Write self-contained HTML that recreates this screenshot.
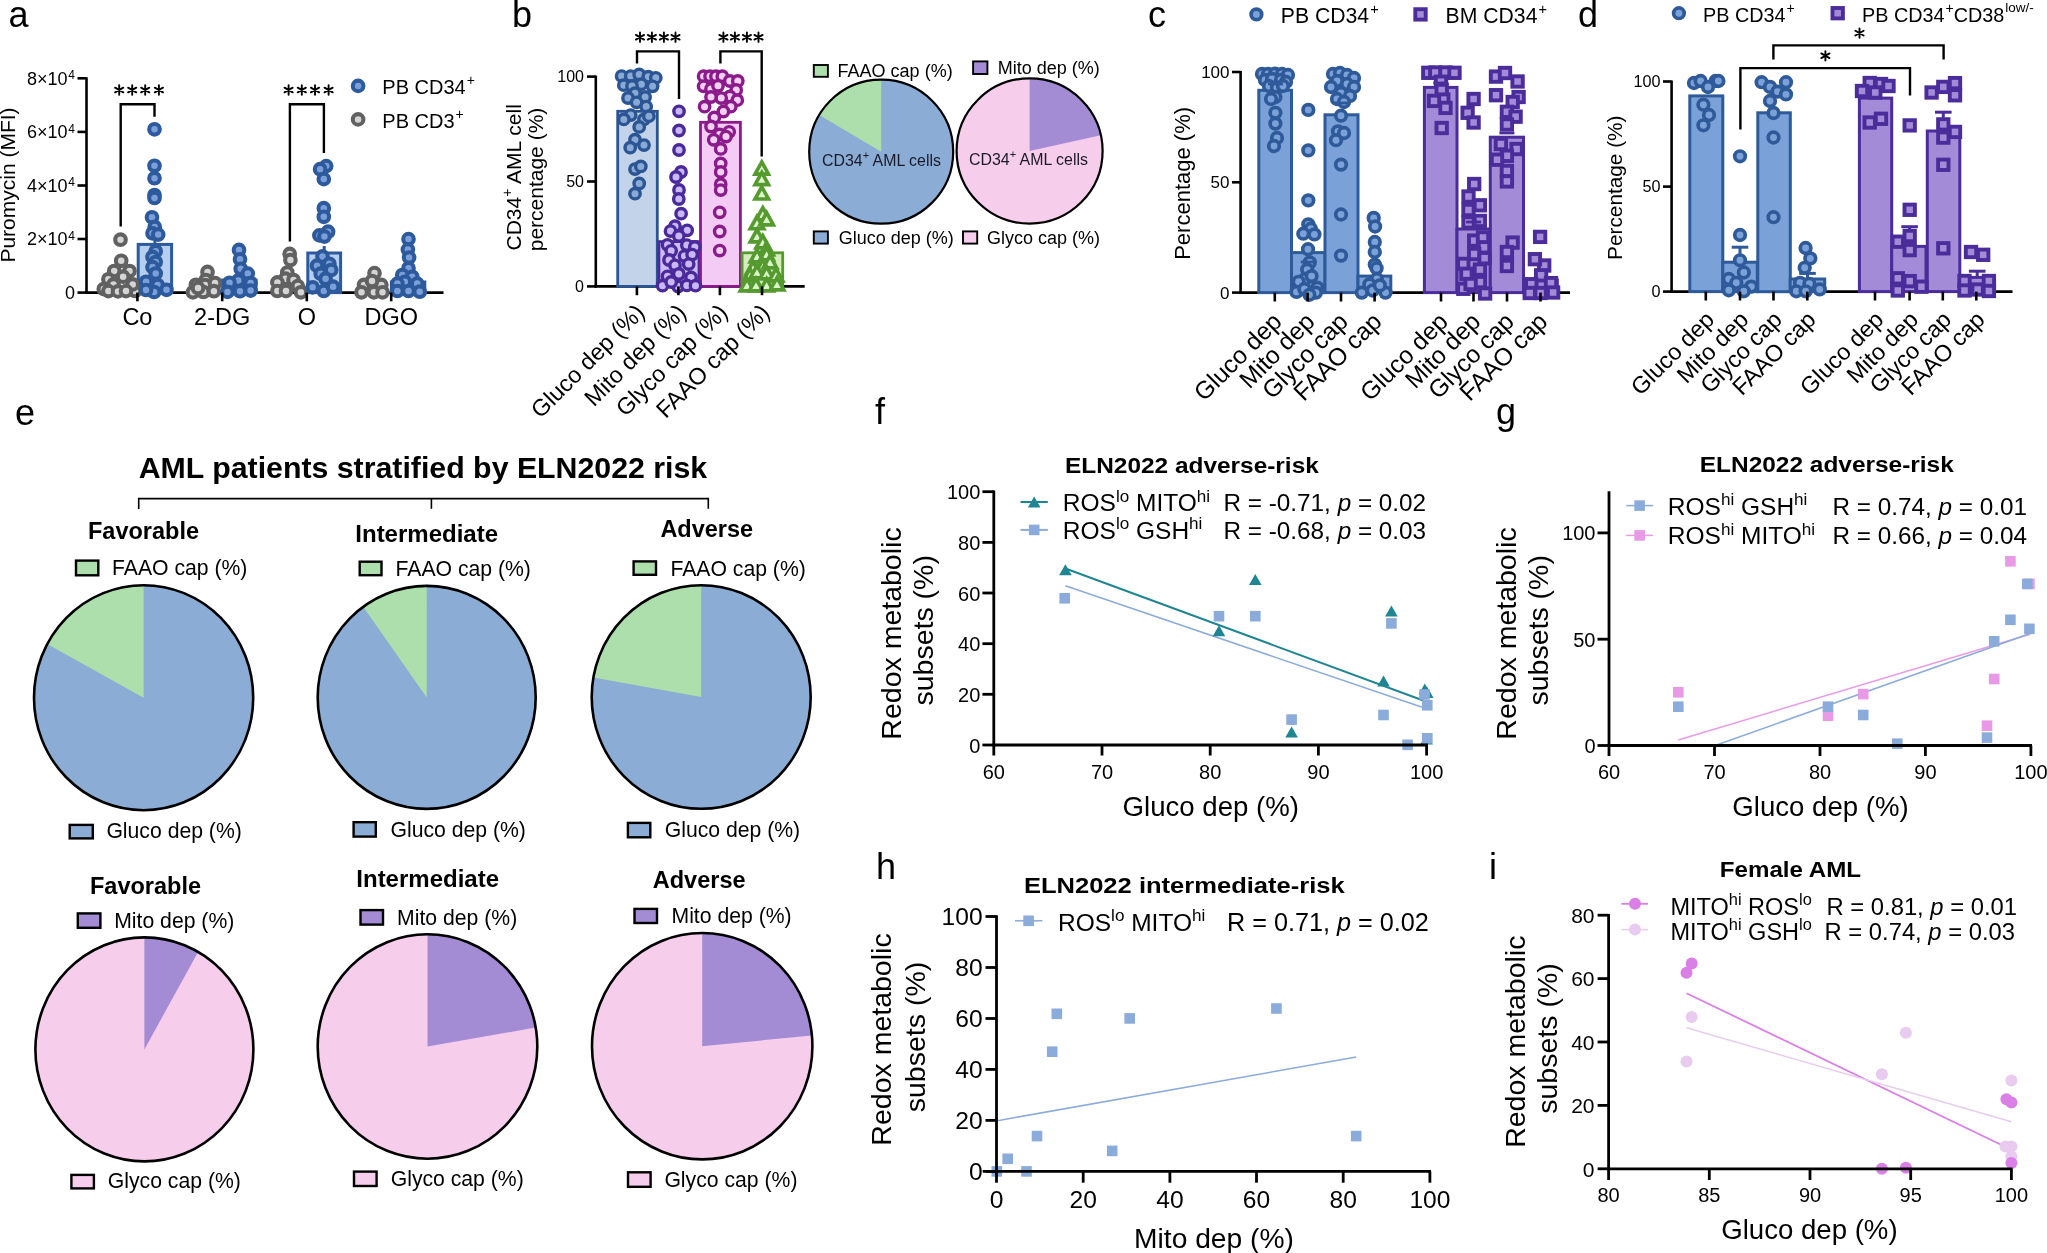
<!DOCTYPE html>
<html><head><meta charset="utf-8"><style>
html,body{margin:0;padding:0;background:#fff;}
svg{display:block;will-change:transform;}
text{font-family:"Liberation Sans", sans-serif;}
</style></head><body>
<svg width="2047" height="1253" viewBox="0 0 2047 1253">
<rect width="2047" height="1253" fill="#fff"/>
<text x="8.5" y="26.8" font-size="36" text-anchor="start" font-weight="normal" fill="#000" >a</text>
<text x="512.0" y="26.8" font-size="36" text-anchor="start" font-weight="normal" fill="#000" >b</text>
<text x="1148.0" y="26.8" font-size="36" text-anchor="start" font-weight="normal" fill="#000" >c</text>
<text x="1578.0" y="26.8" font-size="36" text-anchor="start" font-weight="normal" fill="#000" >d</text>
<text x="15.0" y="424.5" font-size="36" text-anchor="start" font-weight="normal" fill="#000" >e</text>
<text x="875.0" y="424.0" font-size="36" text-anchor="start" font-weight="normal" fill="#000" >f</text>
<text x="1496.0" y="424.0" font-size="36" text-anchor="start" font-weight="normal" fill="#000" >g</text>
<text x="876.0" y="878.6" font-size="36" text-anchor="start" font-weight="normal" fill="#000" >h</text>
<text x="1489.0" y="878.5" font-size="36" text-anchor="start" font-weight="normal" fill="#000" >i</text>
<line x1="86.5" y1="77.3" x2="86.5" y2="293.8" stroke="#000" stroke-width="2.6" />
<line x1="85.2" y1="292.6" x2="443.5" y2="292.6" stroke="#000" stroke-width="2.6" />
<rect x="138.2" y="244.4" width="33.4" height="48.2" fill="#b6cef0" stroke="#2d5a9c" stroke-width="3"/>
<rect x="222.6" y="280.0" width="33.4" height="12.6" fill="#b6cef0" stroke="#2d5a9c" stroke-width="3"/>
<rect x="307.8" y="253.0" width="32.8" height="39.6" fill="#b6cef0" stroke="#2d5a9c" stroke-width="3"/>
<rect x="391.4" y="282.0" width="33.4" height="10.6" fill="#b6cef0" stroke="#2d5a9c" stroke-width="3"/>
<line x1="154.9" y1="244.4" x2="154.9" y2="237.0" stroke="#2d5a9c" stroke-width="3" />
<line x1="324.2" y1="253.0" x2="324.2" y2="246.0" stroke="#2d5a9c" stroke-width="3" />
<circle cx="103.8" cy="289.0" r="5.3" fill="#d5d5d5" stroke="#616161" stroke-width="4.1"/>
<circle cx="135.0" cy="291.0" r="5.3" fill="#d5d5d5" stroke="#616161" stroke-width="4.1"/>
<circle cx="120.5" cy="239.7" r="5.3" fill="#d5d5d5" stroke="#616161" stroke-width="4.1"/>
<circle cx="121.2" cy="260.8" r="5.3" fill="#d5d5d5" stroke="#616161" stroke-width="4.1"/>
<circle cx="114.2" cy="271.0" r="5.3" fill="#d5d5d5" stroke="#616161" stroke-width="4.1"/>
<circle cx="129.5" cy="271.0" r="5.3" fill="#d5d5d5" stroke="#616161" stroke-width="4.1"/>
<circle cx="123.1" cy="276.7" r="5.3" fill="#d5d5d5" stroke="#616161" stroke-width="4.1"/>
<circle cx="108.4" cy="279.3" r="5.3" fill="#d5d5d5" stroke="#616161" stroke-width="4.1"/>
<circle cx="113.5" cy="284.4" r="5.3" fill="#d5d5d5" stroke="#616161" stroke-width="4.1"/>
<circle cx="132.7" cy="284.4" r="5.3" fill="#d5d5d5" stroke="#616161" stroke-width="4.1"/>
<circle cx="108.4" cy="291.1" r="5.3" fill="#d5d5d5" stroke="#616161" stroke-width="4.1"/>
<circle cx="118.0" cy="291.4" r="5.3" fill="#d5d5d5" stroke="#616161" stroke-width="4.1"/>
<circle cx="126.0" cy="291.1" r="5.3" fill="#d5d5d5" stroke="#616161" stroke-width="4.1"/>
<circle cx="207.5" cy="271.9" r="5.3" fill="#d5d5d5" stroke="#616161" stroke-width="4.1"/>
<circle cx="205.8" cy="280.0" r="5.3" fill="#d5d5d5" stroke="#616161" stroke-width="4.1"/>
<circle cx="195.9" cy="284.8" r="5.3" fill="#d5d5d5" stroke="#616161" stroke-width="4.1"/>
<circle cx="205.1" cy="285.0" r="5.3" fill="#d5d5d5" stroke="#616161" stroke-width="4.1"/>
<circle cx="215.0" cy="283.0" r="5.3" fill="#d5d5d5" stroke="#616161" stroke-width="4.1"/>
<circle cx="192.9" cy="292.3" r="5.3" fill="#d5d5d5" stroke="#616161" stroke-width="4.1"/>
<circle cx="203.4" cy="292.0" r="5.3" fill="#d5d5d5" stroke="#616161" stroke-width="4.1"/>
<circle cx="213.9" cy="291.2" r="5.3" fill="#d5d5d5" stroke="#616161" stroke-width="4.1"/>
<circle cx="198.0" cy="288.0" r="5.3" fill="#d5d5d5" stroke="#616161" stroke-width="4.1"/>
<circle cx="289.7" cy="253.9" r="5.3" fill="#d5d5d5" stroke="#616161" stroke-width="4.1"/>
<circle cx="290.4" cy="260.1" r="5.3" fill="#d5d5d5" stroke="#616161" stroke-width="4.1"/>
<circle cx="287.3" cy="272.5" r="5.3" fill="#d5d5d5" stroke="#616161" stroke-width="4.1"/>
<circle cx="285.4" cy="278.7" r="5.3" fill="#d5d5d5" stroke="#616161" stroke-width="4.1"/>
<circle cx="293.5" cy="280.0" r="5.3" fill="#d5d5d5" stroke="#616161" stroke-width="4.1"/>
<circle cx="277.4" cy="282.4" r="5.3" fill="#d5d5d5" stroke="#616161" stroke-width="4.1"/>
<circle cx="297.8" cy="286.1" r="5.3" fill="#d5d5d5" stroke="#616161" stroke-width="4.1"/>
<circle cx="277.4" cy="291.0" r="5.3" fill="#d5d5d5" stroke="#616161" stroke-width="4.1"/>
<circle cx="286.0" cy="291.0" r="5.3" fill="#d5d5d5" stroke="#616161" stroke-width="4.1"/>
<circle cx="300.9" cy="292.3" r="5.3" fill="#d5d5d5" stroke="#616161" stroke-width="4.1"/>
<circle cx="374.5" cy="273.1" r="5.3" fill="#d5d5d5" stroke="#616161" stroke-width="4.1"/>
<circle cx="364.0" cy="284.9" r="5.3" fill="#d5d5d5" stroke="#616161" stroke-width="4.1"/>
<circle cx="381.3" cy="284.9" r="5.3" fill="#d5d5d5" stroke="#616161" stroke-width="4.1"/>
<circle cx="372.0" cy="281.0" r="5.3" fill="#d5d5d5" stroke="#616161" stroke-width="4.1"/>
<circle cx="361.5" cy="292.3" r="5.3" fill="#d5d5d5" stroke="#616161" stroke-width="4.1"/>
<circle cx="373.9" cy="292.3" r="5.3" fill="#d5d5d5" stroke="#616161" stroke-width="4.1"/>
<circle cx="382.5" cy="292.3" r="5.3" fill="#d5d5d5" stroke="#616161" stroke-width="4.1"/>
<circle cx="154.5" cy="129.3" r="5.3" fill="#7ba0d9" stroke="#2d5a9c" stroke-width="4.1"/>
<circle cx="154.5" cy="165.8" r="5.3" fill="#7ba0d9" stroke="#2d5a9c" stroke-width="4.1"/>
<circle cx="154.5" cy="178.2" r="5.3" fill="#7ba0d9" stroke="#2d5a9c" stroke-width="4.1"/>
<circle cx="154.5" cy="195.0" r="5.3" fill="#7ba0d9" stroke="#2d5a9c" stroke-width="4.1"/>
<circle cx="154.5" cy="198.0" r="5.3" fill="#7ba0d9" stroke="#2d5a9c" stroke-width="4.1"/>
<circle cx="152.0" cy="217.3" r="5.3" fill="#7ba0d9" stroke="#2d5a9c" stroke-width="4.1"/>
<circle cx="154.7" cy="226.9" r="5.3" fill="#7ba0d9" stroke="#2d5a9c" stroke-width="4.1"/>
<circle cx="152.5" cy="233.3" r="5.3" fill="#7ba0d9" stroke="#2d5a9c" stroke-width="4.1"/>
<circle cx="158.2" cy="234.6" r="5.3" fill="#7ba0d9" stroke="#2d5a9c" stroke-width="4.1"/>
<circle cx="155.7" cy="251.2" r="5.3" fill="#7ba0d9" stroke="#2d5a9c" stroke-width="4.1"/>
<circle cx="152.5" cy="256.9" r="5.3" fill="#7ba0d9" stroke="#2d5a9c" stroke-width="4.1"/>
<circle cx="155.7" cy="262.0" r="5.3" fill="#7ba0d9" stroke="#2d5a9c" stroke-width="4.1"/>
<circle cx="152.5" cy="267.1" r="5.3" fill="#7ba0d9" stroke="#2d5a9c" stroke-width="4.1"/>
<circle cx="155.7" cy="273.5" r="5.3" fill="#7ba0d9" stroke="#2d5a9c" stroke-width="4.1"/>
<circle cx="146.1" cy="281.8" r="5.3" fill="#7ba0d9" stroke="#2d5a9c" stroke-width="4.1"/>
<circle cx="157.6" cy="285.0" r="5.3" fill="#7ba0d9" stroke="#2d5a9c" stroke-width="4.1"/>
<circle cx="166.5" cy="289.8" r="5.3" fill="#7ba0d9" stroke="#2d5a9c" stroke-width="4.1"/>
<circle cx="154.1" cy="292.0" r="5.3" fill="#7ba0d9" stroke="#2d5a9c" stroke-width="4.1"/>
<circle cx="146.0" cy="290.0" r="5.3" fill="#7ba0d9" stroke="#2d5a9c" stroke-width="4.1"/>
<circle cx="239.0" cy="249.9" r="5.3" fill="#7ba0d9" stroke="#2d5a9c" stroke-width="4.1"/>
<circle cx="240.0" cy="259.3" r="5.3" fill="#7ba0d9" stroke="#2d5a9c" stroke-width="4.1"/>
<circle cx="240.7" cy="268.8" r="5.3" fill="#7ba0d9" stroke="#2d5a9c" stroke-width="4.1"/>
<circle cx="247.8" cy="273.6" r="5.3" fill="#7ba0d9" stroke="#2d5a9c" stroke-width="4.1"/>
<circle cx="238.3" cy="280.4" r="5.3" fill="#7ba0d9" stroke="#2d5a9c" stroke-width="4.1"/>
<circle cx="229.5" cy="282.8" r="5.3" fill="#7ba0d9" stroke="#2d5a9c" stroke-width="4.1"/>
<circle cx="250.6" cy="283.0" r="5.3" fill="#7ba0d9" stroke="#2d5a9c" stroke-width="4.1"/>
<circle cx="227.5" cy="291.9" r="5.3" fill="#7ba0d9" stroke="#2d5a9c" stroke-width="4.1"/>
<circle cx="240.0" cy="291.2" r="5.3" fill="#7ba0d9" stroke="#2d5a9c" stroke-width="4.1"/>
<circle cx="250.6" cy="290.6" r="5.3" fill="#7ba0d9" stroke="#2d5a9c" stroke-width="4.1"/>
<circle cx="326.2" cy="166.1" r="5.3" fill="#7ba0d9" stroke="#2d5a9c" stroke-width="4.1"/>
<circle cx="320.1" cy="169.2" r="5.3" fill="#7ba0d9" stroke="#2d5a9c" stroke-width="4.1"/>
<circle cx="323.8" cy="179.1" r="5.3" fill="#7ba0d9" stroke="#2d5a9c" stroke-width="4.1"/>
<circle cx="323.8" cy="208.2" r="5.3" fill="#7ba0d9" stroke="#2d5a9c" stroke-width="4.1"/>
<circle cx="323.8" cy="216.8" r="5.3" fill="#7ba0d9" stroke="#2d5a9c" stroke-width="4.1"/>
<circle cx="328.1" cy="231.7" r="5.3" fill="#7ba0d9" stroke="#2d5a9c" stroke-width="4.1"/>
<circle cx="319.4" cy="235.4" r="5.3" fill="#7ba0d9" stroke="#2d5a9c" stroke-width="4.1"/>
<circle cx="324.4" cy="236.6" r="5.3" fill="#7ba0d9" stroke="#2d5a9c" stroke-width="4.1"/>
<circle cx="322.5" cy="256.4" r="5.3" fill="#7ba0d9" stroke="#2d5a9c" stroke-width="4.1"/>
<circle cx="317.0" cy="265.7" r="5.3" fill="#7ba0d9" stroke="#2d5a9c" stroke-width="4.1"/>
<circle cx="329.3" cy="263.8" r="5.3" fill="#7ba0d9" stroke="#2d5a9c" stroke-width="4.1"/>
<circle cx="320.7" cy="273.7" r="5.3" fill="#7ba0d9" stroke="#2d5a9c" stroke-width="4.1"/>
<circle cx="331.2" cy="270.0" r="5.3" fill="#7ba0d9" stroke="#2d5a9c" stroke-width="4.1"/>
<circle cx="325.6" cy="278.7" r="5.3" fill="#7ba0d9" stroke="#2d5a9c" stroke-width="4.1"/>
<circle cx="312.6" cy="287.3" r="5.3" fill="#7ba0d9" stroke="#2d5a9c" stroke-width="4.1"/>
<circle cx="323.8" cy="291.0" r="5.3" fill="#7ba0d9" stroke="#2d5a9c" stroke-width="4.1"/>
<circle cx="333.1" cy="286.7" r="5.3" fill="#7ba0d9" stroke="#2d5a9c" stroke-width="4.1"/>
<circle cx="408.5" cy="239.1" r="5.3" fill="#7ba0d9" stroke="#2d5a9c" stroke-width="4.1"/>
<circle cx="407.9" cy="249.6" r="5.3" fill="#7ba0d9" stroke="#2d5a9c" stroke-width="4.1"/>
<circle cx="409.1" cy="257.6" r="5.3" fill="#7ba0d9" stroke="#2d5a9c" stroke-width="4.1"/>
<circle cx="408.5" cy="268.2" r="5.3" fill="#7ba0d9" stroke="#2d5a9c" stroke-width="4.1"/>
<circle cx="402.3" cy="275.0" r="5.3" fill="#7ba0d9" stroke="#2d5a9c" stroke-width="4.1"/>
<circle cx="412.2" cy="276.8" r="5.3" fill="#7ba0d9" stroke="#2d5a9c" stroke-width="4.1"/>
<circle cx="404.8" cy="281.8" r="5.3" fill="#7ba0d9" stroke="#2d5a9c" stroke-width="4.1"/>
<circle cx="417.2" cy="283.6" r="5.3" fill="#7ba0d9" stroke="#2d5a9c" stroke-width="4.1"/>
<circle cx="397.4" cy="283.6" r="5.3" fill="#7ba0d9" stroke="#2d5a9c" stroke-width="4.1"/>
<circle cx="397.4" cy="291.0" r="5.3" fill="#7ba0d9" stroke="#2d5a9c" stroke-width="4.1"/>
<circle cx="408.5" cy="291.0" r="5.3" fill="#7ba0d9" stroke="#2d5a9c" stroke-width="4.1"/>
<circle cx="419.7" cy="291.7" r="5.3" fill="#7ba0d9" stroke="#2d5a9c" stroke-width="4.1"/>
<line x1="77.5" y1="292.6" x2="86.5" y2="292.6" stroke="#000" stroke-width="2.6" />
<text x="75.0" y="298.9" font-size="18" text-anchor="end" font-weight="normal" fill="#000" >0</text>
<line x1="77.5" y1="239.0" x2="86.5" y2="239.0" stroke="#000" stroke-width="2.6" />
<text x="67.6" y="245.2" font-size="18" text-anchor="end" font-weight="normal" fill="#000" >2×10</text>
<text x="68.3" y="239.8" font-size="12" text-anchor="start" font-weight="normal" fill="#000" >4</text>
<line x1="77.5" y1="185.5" x2="86.5" y2="185.5" stroke="#000" stroke-width="2.6" />
<text x="67.6" y="191.7" font-size="18" text-anchor="end" font-weight="normal" fill="#000" >4×10</text>
<text x="68.3" y="186.3" font-size="12" text-anchor="start" font-weight="normal" fill="#000" >4</text>
<line x1="77.5" y1="131.9" x2="86.5" y2="131.9" stroke="#000" stroke-width="2.6" />
<text x="67.6" y="138.1" font-size="18" text-anchor="end" font-weight="normal" fill="#000" >6×10</text>
<text x="68.3" y="132.7" font-size="12" text-anchor="start" font-weight="normal" fill="#000" >4</text>
<line x1="77.5" y1="78.3" x2="86.5" y2="78.3" stroke="#000" stroke-width="2.6" />
<text x="67.6" y="84.5" font-size="18" text-anchor="end" font-weight="normal" fill="#000" >8×10</text>
<text x="68.3" y="79.1" font-size="12" text-anchor="start" font-weight="normal" fill="#000" >4</text>
<line x1="137.4" y1="292.6" x2="137.4" y2="301.3" stroke="#000" stroke-width="2.6" />
<text x="137.4" y="325.0" font-size="23.5" text-anchor="middle" font-weight="normal" fill="#000" >Co</text>
<line x1="222.2" y1="292.6" x2="222.2" y2="301.3" stroke="#000" stroke-width="2.6" />
<text x="222.2" y="325.0" font-size="23.5" text-anchor="middle" font-weight="normal" fill="#000" >2-DG</text>
<line x1="306.8" y1="292.6" x2="306.8" y2="301.3" stroke="#000" stroke-width="2.6" />
<text x="306.8" y="325.0" font-size="23.5" text-anchor="middle" font-weight="normal" fill="#000" >O</text>
<line x1="391.2" y1="292.6" x2="391.2" y2="301.3" stroke="#000" stroke-width="2.6" />
<text x="391.2" y="325.0" font-size="23.5" text-anchor="middle" font-weight="normal" fill="#000" >DGO</text>
<text transform="translate(15.3,185) rotate(-90)" font-size="21" text-anchor="middle">Puromycin (MFI)</text>
<polyline points="120.7,226.5 120.7,104.2 154.5,104.2 154.5,116.7" fill="none" stroke="#000" stroke-width="2.4" stroke-linejoin="miter"/>
<polyline points="289.9,241.6 289.9,104.2 323.9,104.2 323.9,153.0" fill="none" stroke="#000" stroke-width="2.4" stroke-linejoin="miter"/>
<path d="M119.2,85.3V94.7M115.1,87.7L123.3,92.3M115.1,92.3L123.3,87.7" stroke="#000" stroke-width="1.9" stroke-linecap="round" fill="none"/>
<path d="M132.2,85.3V94.7M128.1,87.7L136.3,92.3M128.1,92.3L136.3,87.7" stroke="#000" stroke-width="1.9" stroke-linecap="round" fill="none"/>
<path d="M145.2,85.3V94.7M141.1,87.7L149.3,92.3M141.1,92.3L149.3,87.7" stroke="#000" stroke-width="1.9" stroke-linecap="round" fill="none"/>
<path d="M158.9,85.3V94.7M154.8,87.7L163.0,92.3M154.8,92.3L163.0,87.7" stroke="#000" stroke-width="1.9" stroke-linecap="round" fill="none"/>
<path d="M288.6,85.3V94.7M284.5,87.7L292.7,92.3M284.5,92.3L292.7,87.7" stroke="#000" stroke-width="1.9" stroke-linecap="round" fill="none"/>
<path d="M301.8,85.3V94.7M297.7,87.7L305.9,92.3M297.7,92.3L305.9,87.7" stroke="#000" stroke-width="1.9" stroke-linecap="round" fill="none"/>
<path d="M315.0,85.3V94.7M310.9,87.7L319.1,92.3M310.9,92.3L319.1,87.7" stroke="#000" stroke-width="1.9" stroke-linecap="round" fill="none"/>
<path d="M328.6,85.3V94.7M324.5,87.7L332.7,92.3M324.5,92.3L332.7,87.7" stroke="#000" stroke-width="1.9" stroke-linecap="round" fill="none"/>
<circle cx="358.1" cy="85.9" r="5.3" fill="#7ba0d9" stroke="#2d5a9c" stroke-width="4.1"/>
<circle cx="358.1" cy="119.4" r="5.3" fill="#d5d5d5" stroke="#616161" stroke-width="4.1"/>
<text x="382.3" y="93.9" font-size="20">PB CD34<tspan font-size="14" dx="1" dy="-8.8">+</tspan></text>
<text x="382.3" y="127.6" font-size="20">PB CD3<tspan font-size="14" dx="1" dy="-8.8">+</tspan></text>
<line x1="595.8" y1="75.6" x2="595.8" y2="287.6" stroke="#000" stroke-width="2.6" />
<line x1="594.5" y1="286.4" x2="804.7" y2="286.4" stroke="#000" stroke-width="2.6" />
<rect x="617.7" y="111.3" width="39.6" height="175.1" fill="#c3d3ea" stroke="#2c5594" stroke-width="2.8"/>
<rect x="658.9" y="241.6" width="40.1" height="44.8" fill="#cbbdf3" stroke="#4a2a9a" stroke-width="2.8"/>
<rect x="700.5" y="122.3" width="39.9" height="164.1" fill="#f4cbf4" stroke="#8b1a8b" stroke-width="2.8"/>
<rect x="742.1" y="252.8" width="40.6" height="33.6" fill="#d6ecbc" stroke="#559a2f" stroke-width="2.8"/>
<circle cx="621.6" cy="76.1" r="5.2" fill="#8aaad6" stroke="#2c5594" stroke-width="3.4"/>
<circle cx="630.7" cy="76.1" r="5.2" fill="#8aaad6" stroke="#2c5594" stroke-width="3.4"/>
<circle cx="639.2" cy="74.5" r="5.2" fill="#8aaad6" stroke="#2c5594" stroke-width="3.4"/>
<circle cx="648.3" cy="76.7" r="5.2" fill="#8aaad6" stroke="#2c5594" stroke-width="3.4"/>
<circle cx="655.8" cy="77.8" r="5.2" fill="#8aaad6" stroke="#2c5594" stroke-width="3.4"/>
<circle cx="623.8" cy="85.2" r="5.2" fill="#8aaad6" stroke="#2c5594" stroke-width="3.4"/>
<circle cx="641.4" cy="84.2" r="5.2" fill="#8aaad6" stroke="#2c5594" stroke-width="3.4"/>
<circle cx="652.6" cy="86.3" r="5.2" fill="#8aaad6" stroke="#2c5594" stroke-width="3.4"/>
<circle cx="632.0" cy="86.0" r="5.2" fill="#8aaad6" stroke="#2c5594" stroke-width="3.4"/>
<circle cx="635.0" cy="93.2" r="5.2" fill="#8aaad6" stroke="#2c5594" stroke-width="3.4"/>
<circle cx="628.0" cy="98.0" r="5.2" fill="#8aaad6" stroke="#2c5594" stroke-width="3.4"/>
<circle cx="645.1" cy="97.0" r="5.2" fill="#8aaad6" stroke="#2c5594" stroke-width="3.4"/>
<circle cx="636.6" cy="102.3" r="5.2" fill="#8aaad6" stroke="#2c5594" stroke-width="3.4"/>
<circle cx="646.2" cy="106.6" r="5.2" fill="#8aaad6" stroke="#2c5594" stroke-width="3.4"/>
<circle cx="630.7" cy="115.1" r="5.2" fill="#8aaad6" stroke="#2c5594" stroke-width="3.4"/>
<circle cx="623.8" cy="119.4" r="5.2" fill="#8aaad6" stroke="#2c5594" stroke-width="3.4"/>
<circle cx="644.0" cy="119.4" r="5.2" fill="#8aaad6" stroke="#2c5594" stroke-width="3.4"/>
<circle cx="648.9" cy="116.2" r="5.2" fill="#8aaad6" stroke="#2c5594" stroke-width="3.4"/>
<circle cx="639.2" cy="126.9" r="5.2" fill="#8aaad6" stroke="#2c5594" stroke-width="3.4"/>
<circle cx="635.0" cy="139.7" r="5.2" fill="#8aaad6" stroke="#2c5594" stroke-width="3.4"/>
<circle cx="630.2" cy="147.7" r="5.2" fill="#8aaad6" stroke="#2c5594" stroke-width="3.4"/>
<circle cx="644.0" cy="145.1" r="5.2" fill="#8aaad6" stroke="#2c5594" stroke-width="3.4"/>
<circle cx="635.0" cy="169.1" r="5.2" fill="#8aaad6" stroke="#2c5594" stroke-width="3.4"/>
<circle cx="640.8" cy="166.4" r="5.2" fill="#8aaad6" stroke="#2c5594" stroke-width="3.4"/>
<circle cx="639.2" cy="183.5" r="5.2" fill="#8aaad6" stroke="#2c5594" stroke-width="3.4"/>
<circle cx="635.0" cy="193.7" r="5.2" fill="#8aaad6" stroke="#2c5594" stroke-width="3.4"/>
<circle cx="679.0" cy="111.3" r="5.2" fill="#c9b8f8" stroke="#4a2a9a" stroke-width="3.4"/>
<circle cx="679.0" cy="130.5" r="5.2" fill="#c9b8f8" stroke="#4a2a9a" stroke-width="3.4"/>
<circle cx="679.0" cy="150.0" r="5.2" fill="#c9b8f8" stroke="#4a2a9a" stroke-width="3.4"/>
<circle cx="681.0" cy="172.0" r="5.2" fill="#c9b8f8" stroke="#4a2a9a" stroke-width="3.4"/>
<circle cx="676.0" cy="177.0" r="5.2" fill="#c9b8f8" stroke="#4a2a9a" stroke-width="3.4"/>
<circle cx="679.0" cy="190.0" r="5.2" fill="#c9b8f8" stroke="#4a2a9a" stroke-width="3.4"/>
<circle cx="678.8" cy="199.0" r="5.2" fill="#c9b8f8" stroke="#4a2a9a" stroke-width="3.4"/>
<circle cx="681.1" cy="213.7" r="5.2" fill="#c9b8f8" stroke="#4a2a9a" stroke-width="3.4"/>
<circle cx="675.0" cy="226.2" r="5.2" fill="#c9b8f8" stroke="#4a2a9a" stroke-width="3.4"/>
<circle cx="687.2" cy="230.3" r="5.2" fill="#c9b8f8" stroke="#4a2a9a" stroke-width="3.4"/>
<circle cx="670.5" cy="231.1" r="5.2" fill="#c9b8f8" stroke="#4a2a9a" stroke-width="3.4"/>
<circle cx="678.8" cy="236.0" r="5.2" fill="#c9b8f8" stroke="#4a2a9a" stroke-width="3.4"/>
<circle cx="667.5" cy="244.8" r="5.2" fill="#c9b8f8" stroke="#4a2a9a" stroke-width="3.4"/>
<circle cx="686.8" cy="245.1" r="5.2" fill="#c9b8f8" stroke="#4a2a9a" stroke-width="3.4"/>
<circle cx="694.8" cy="247.0" r="5.2" fill="#c9b8f8" stroke="#4a2a9a" stroke-width="3.4"/>
<circle cx="671.2" cy="250.8" r="5.2" fill="#c9b8f8" stroke="#4a2a9a" stroke-width="3.4"/>
<circle cx="684.5" cy="256.1" r="5.2" fill="#c9b8f8" stroke="#4a2a9a" stroke-width="3.4"/>
<circle cx="692.1" cy="254.6" r="5.2" fill="#c9b8f8" stroke="#4a2a9a" stroke-width="3.4"/>
<circle cx="669.0" cy="260.0" r="5.2" fill="#c9b8f8" stroke="#4a2a9a" stroke-width="3.4"/>
<circle cx="675.0" cy="265.3" r="5.2" fill="#c9b8f8" stroke="#4a2a9a" stroke-width="3.4"/>
<circle cx="688.7" cy="264.1" r="5.2" fill="#c9b8f8" stroke="#4a2a9a" stroke-width="3.4"/>
<circle cx="667.5" cy="276.3" r="5.2" fill="#c9b8f8" stroke="#4a2a9a" stroke-width="3.4"/>
<circle cx="678.8" cy="274.0" r="5.2" fill="#c9b8f8" stroke="#4a2a9a" stroke-width="3.4"/>
<circle cx="691.0" cy="277.4" r="5.2" fill="#c9b8f8" stroke="#4a2a9a" stroke-width="3.4"/>
<circle cx="662.5" cy="285.7" r="5.2" fill="#c9b8f8" stroke="#4a2a9a" stroke-width="3.4"/>
<circle cx="678.1" cy="286.5" r="5.2" fill="#c9b8f8" stroke="#4a2a9a" stroke-width="3.4"/>
<circle cx="686.8" cy="285.4" r="5.2" fill="#c9b8f8" stroke="#4a2a9a" stroke-width="3.4"/>
<circle cx="695.5" cy="285.7" r="5.2" fill="#c9b8f8" stroke="#4a2a9a" stroke-width="3.4"/>
<circle cx="671.2" cy="282.0" r="5.2" fill="#c9b8f8" stroke="#4a2a9a" stroke-width="3.4"/>
<circle cx="703.6" cy="76.2" r="5.2" fill="#f2d0f2" stroke="#8b1a8b" stroke-width="3.4"/>
<circle cx="710.0" cy="76.2" r="5.2" fill="#f2d0f2" stroke="#8b1a8b" stroke-width="3.4"/>
<circle cx="715.9" cy="76.2" r="5.2" fill="#f2d0f2" stroke="#8b1a8b" stroke-width="3.4"/>
<circle cx="722.3" cy="76.2" r="5.2" fill="#f2d0f2" stroke="#8b1a8b" stroke-width="3.4"/>
<circle cx="729.8" cy="81.0" r="5.2" fill="#f2d0f2" stroke="#8b1a8b" stroke-width="3.4"/>
<circle cx="737.8" cy="81.0" r="5.2" fill="#f2d0f2" stroke="#8b1a8b" stroke-width="3.4"/>
<circle cx="703.6" cy="86.3" r="5.2" fill="#f2d0f2" stroke="#8b1a8b" stroke-width="3.4"/>
<circle cx="711.0" cy="89.0" r="5.2" fill="#f2d0f2" stroke="#8b1a8b" stroke-width="3.4"/>
<circle cx="718.0" cy="85.8" r="5.2" fill="#f2d0f2" stroke="#8b1a8b" stroke-width="3.4"/>
<circle cx="736.2" cy="90.0" r="5.2" fill="#f2d0f2" stroke="#8b1a8b" stroke-width="3.4"/>
<circle cx="729.8" cy="96.5" r="5.2" fill="#f2d0f2" stroke="#8b1a8b" stroke-width="3.4"/>
<circle cx="721.2" cy="98.1" r="5.2" fill="#f2d0f2" stroke="#8b1a8b" stroke-width="3.4"/>
<circle cx="711.0" cy="97.0" r="5.2" fill="#f2d0f2" stroke="#8b1a8b" stroke-width="3.4"/>
<circle cx="737.3" cy="100.2" r="5.2" fill="#f2d0f2" stroke="#8b1a8b" stroke-width="3.4"/>
<circle cx="704.6" cy="106.7" r="5.2" fill="#f2d0f2" stroke="#8b1a8b" stroke-width="3.4"/>
<circle cx="730.8" cy="106.7" r="5.2" fill="#f2d0f2" stroke="#8b1a8b" stroke-width="3.4"/>
<circle cx="723.4" cy="111.5" r="5.2" fill="#f2d0f2" stroke="#8b1a8b" stroke-width="3.4"/>
<circle cx="714.3" cy="117.4" r="5.2" fill="#f2d0f2" stroke="#8b1a8b" stroke-width="3.4"/>
<circle cx="711.0" cy="126.5" r="5.2" fill="#f2d0f2" stroke="#8b1a8b" stroke-width="3.4"/>
<circle cx="729.2" cy="131.8" r="5.2" fill="#f2d0f2" stroke="#8b1a8b" stroke-width="3.4"/>
<circle cx="719.6" cy="134.5" r="5.2" fill="#f2d0f2" stroke="#8b1a8b" stroke-width="3.4"/>
<circle cx="713.7" cy="139.8" r="5.2" fill="#f2d0f2" stroke="#8b1a8b" stroke-width="3.4"/>
<circle cx="726.0" cy="136.6" r="5.2" fill="#f2d0f2" stroke="#8b1a8b" stroke-width="3.4"/>
<circle cx="720.7" cy="148.9" r="5.2" fill="#f2d0f2" stroke="#8b1a8b" stroke-width="3.4"/>
<circle cx="720.7" cy="163.4" r="5.2" fill="#f2d0f2" stroke="#8b1a8b" stroke-width="3.4"/>
<circle cx="720.7" cy="171.9" r="5.2" fill="#f2d0f2" stroke="#8b1a8b" stroke-width="3.4"/>
<circle cx="720.7" cy="184.2" r="5.2" fill="#f2d0f2" stroke="#8b1a8b" stroke-width="3.4"/>
<circle cx="720.7" cy="190.1" r="5.2" fill="#f2d0f2" stroke="#8b1a8b" stroke-width="3.4"/>
<circle cx="719.7" cy="212.3" r="5.2" fill="#f2d0f2" stroke="#8b1a8b" stroke-width="3.4"/>
<circle cx="719.7" cy="231.5" r="5.2" fill="#f2d0f2" stroke="#8b1a8b" stroke-width="3.4"/>
<circle cx="719.7" cy="250.6" r="5.2" fill="#f2d0f2" stroke="#8b1a8b" stroke-width="3.4"/>
<polygon points="761.8,161.9 768.5,174.1 755.0,174.1" fill="#d9f5c9" stroke="#559a2f" stroke-width="3.6" stroke-linejoin="miter"/>
<polygon points="761.8,172.4 768.5,184.6 755.0,184.6" fill="#d9f5c9" stroke="#559a2f" stroke-width="3.6" stroke-linejoin="miter"/>
<polygon points="761.8,186.8 768.5,199.0 755.0,199.0" fill="#d9f5c9" stroke="#559a2f" stroke-width="3.6" stroke-linejoin="miter"/>
<polygon points="762.8,207.7 769.5,219.9 756.0,219.9" fill="#d9f5c9" stroke="#559a2f" stroke-width="3.6" stroke-linejoin="miter"/>
<polygon points="757.0,216.5 763.8,228.7 750.2,228.7" fill="#d9f5c9" stroke="#559a2f" stroke-width="3.6" stroke-linejoin="miter"/>
<polygon points="766.6,212.7 773.4,224.9 759.9,224.9" fill="#d9f5c9" stroke="#559a2f" stroke-width="3.6" stroke-linejoin="miter"/>
<polygon points="757.0,229.7 763.8,241.9 750.2,241.9" fill="#d9f5c9" stroke="#559a2f" stroke-width="3.6" stroke-linejoin="miter"/>
<polygon points="762.8,235.7 769.5,247.9 756.0,247.9" fill="#d9f5c9" stroke="#559a2f" stroke-width="3.6" stroke-linejoin="miter"/>
<polygon points="766.6,242.7 773.4,254.9 759.9,254.9" fill="#d9f5c9" stroke="#559a2f" stroke-width="3.6" stroke-linejoin="miter"/>
<polygon points="757.0,249.7 763.8,261.9 750.2,261.9" fill="#d9f5c9" stroke="#559a2f" stroke-width="3.6" stroke-linejoin="miter"/>
<polygon points="766.6,247.7 773.4,259.9 759.9,259.9" fill="#d9f5c9" stroke="#559a2f" stroke-width="3.6" stroke-linejoin="miter"/>
<polygon points="753.0,261.7 759.8,273.9 746.2,273.9" fill="#d9f5c9" stroke="#559a2f" stroke-width="3.6" stroke-linejoin="miter"/>
<polygon points="762.8,259.7 769.5,271.9 756.0,271.9" fill="#d9f5c9" stroke="#559a2f" stroke-width="3.6" stroke-linejoin="miter"/>
<polygon points="770.0,255.7 776.8,267.9 763.2,267.9" fill="#d9f5c9" stroke="#559a2f" stroke-width="3.6" stroke-linejoin="miter"/>
<polygon points="750.0,268.7 756.8,280.9 743.2,280.9" fill="#d9f5c9" stroke="#559a2f" stroke-width="3.6" stroke-linejoin="miter"/>
<polygon points="757.0,265.7 763.8,277.9 750.2,277.9" fill="#d9f5c9" stroke="#559a2f" stroke-width="3.6" stroke-linejoin="miter"/>
<polygon points="766.6,266.7 773.4,278.9 759.9,278.9" fill="#d9f5c9" stroke="#559a2f" stroke-width="3.6" stroke-linejoin="miter"/>
<polygon points="776.0,268.7 782.8,280.9 769.2,280.9" fill="#d9f5c9" stroke="#559a2f" stroke-width="3.6" stroke-linejoin="miter"/>
<polygon points="747.0,278.7 753.8,290.9 740.2,290.9" fill="#d9f5c9" stroke="#559a2f" stroke-width="3.6" stroke-linejoin="miter"/>
<polygon points="756.0,278.7 762.8,290.9 749.2,290.9" fill="#d9f5c9" stroke="#559a2f" stroke-width="3.6" stroke-linejoin="miter"/>
<polygon points="766.6,278.7 773.4,290.9 759.9,290.9" fill="#d9f5c9" stroke="#559a2f" stroke-width="3.6" stroke-linejoin="miter"/>
<polygon points="777.0,277.7 783.8,289.9 770.2,289.9" fill="#d9f5c9" stroke="#559a2f" stroke-width="3.6" stroke-linejoin="miter"/>
<line x1="587.0" y1="286.4" x2="595.8" y2="286.4" stroke="#000" stroke-width="2.6" />
<text x="584.0" y="292.1" font-size="16" text-anchor="end" font-weight="normal" fill="#000" >0</text>
<line x1="587.0" y1="181.5" x2="595.8" y2="181.5" stroke="#000" stroke-width="2.6" />
<text x="584.0" y="187.2" font-size="16" text-anchor="end" font-weight="normal" fill="#000" >50</text>
<line x1="587.0" y1="76.6" x2="595.8" y2="76.6" stroke="#000" stroke-width="2.6" />
<text x="584.0" y="82.3" font-size="16" text-anchor="end" font-weight="normal" fill="#000" >100</text>
<line x1="636.9" y1="286.4" x2="636.9" y2="295.2" stroke="#000" stroke-width="2.6" />
<text transform="translate(645.9,314.0) rotate(-45)" font-size="23.3" text-anchor="end">Gluco dep (%)</text>
<line x1="678.4" y1="286.4" x2="678.4" y2="295.2" stroke="#000" stroke-width="2.6" />
<text transform="translate(687.4,314.0) rotate(-45)" font-size="23.3" text-anchor="end">Mito dep (%)</text>
<line x1="719.9" y1="286.4" x2="719.9" y2="295.2" stroke="#000" stroke-width="2.6" />
<text transform="translate(728.9,314.0) rotate(-45)" font-size="23.3" text-anchor="end">Glyco cap (%)</text>
<line x1="762.0" y1="286.4" x2="762.0" y2="295.2" stroke="#000" stroke-width="2.6" />
<text transform="translate(771.0,314.0) rotate(-45)" font-size="23.3" text-anchor="end">FAAO cap (%)</text>
<text transform="translate(520.7,177.3) rotate(-90)" font-size="21" text-anchor="middle">CD34<tspan font-size="14" dy="-8.5">+</tspan><tspan dy="8.5"> AML cell</tspan></text>
<text transform="translate(542.5,179.5) rotate(-90)" font-size="21" text-anchor="middle">percentage (%)</text>
<polyline points="637.0,63.5 637.0,51.4 679.0,51.4 679.0,99.0" fill="none" stroke="#000" stroke-width="2.4" stroke-linejoin="miter"/>
<polyline points="720.4,63.5 720.4,51.4 761.7,51.4 761.7,156.4" fill="none" stroke="#000" stroke-width="2.4" stroke-linejoin="miter"/>
<path d="M640.0,32.5V41.9M635.9,34.9L644.1,39.6M635.9,39.6L644.1,34.9" stroke="#000" stroke-width="1.9" stroke-linecap="round" fill="none"/>
<path d="M651.9,32.5V41.9M647.8,34.9L656.0,39.6M647.8,39.6L656.0,34.9" stroke="#000" stroke-width="1.9" stroke-linecap="round" fill="none"/>
<path d="M663.9,32.5V41.9M659.8,34.9L668.0,39.6M659.8,39.6L668.0,34.9" stroke="#000" stroke-width="1.9" stroke-linecap="round" fill="none"/>
<path d="M675.5,32.5V41.9M671.4,34.9L679.6,39.6M671.4,39.6L679.6,34.9" stroke="#000" stroke-width="1.9" stroke-linecap="round" fill="none"/>
<path d="M723.4,32.5V41.9M719.3,34.9L727.5,39.6M719.3,39.6L727.5,34.9" stroke="#000" stroke-width="1.9" stroke-linecap="round" fill="none"/>
<path d="M734.9,32.5V41.9M730.8,34.9L739.0,39.6M730.8,39.6L739.0,34.9" stroke="#000" stroke-width="1.9" stroke-linecap="round" fill="none"/>
<path d="M746.9,32.5V41.9M742.8,34.9L751.0,39.6M742.8,39.6L751.0,34.9" stroke="#000" stroke-width="1.9" stroke-linecap="round" fill="none"/>
<path d="M758.5,32.5V41.9M754.4,34.9L762.6,39.6M754.4,39.6L762.6,34.9" stroke="#000" stroke-width="1.9" stroke-linecap="round" fill="none"/>
<ellipse cx="881.2" cy="151.7" rx="72" ry="72" fill="#8badd5"/>
<path d="M881.2,151.7 L881.2,79.7 A72,72 0 0 0 819.2,115.0 Z" fill="#addfad"/>
<ellipse cx="881.2" cy="151.7" rx="72" ry="72" fill="none" stroke="#000" stroke-width="2.2"/>
<ellipse cx="1029.6" cy="151.0" rx="73" ry="72.6" fill="#f7cdec"/>
<path d="M1029.6,151.0 L1029.6,78.4 A73,72.6 0 0 1 1100.8,135.2 Z" fill="#a48cd4"/>
<ellipse cx="1029.6" cy="151.0" rx="73" ry="72.6" fill="none" stroke="#000" stroke-width="2.2"/>
<rect x="813.8" y="65.0" width="14.1" height="11.8" fill="#addfad" stroke="#000" stroke-width="1.9"/>
<text x="837.6" y="76.9" font-size="18" text-anchor="start" font-weight="normal" fill="#000" >FAAO cap (%)</text>
<rect x="973.1" y="61.4" width="14.3" height="12.6" fill="#a48cd4" stroke="#000" stroke-width="1.9"/>
<text x="997.8" y="73.7" font-size="18" text-anchor="start" font-weight="normal" fill="#000" >Mito dep (%)</text>
<rect x="813.8" y="231.4" width="14.1" height="12.2" fill="#8badd5" stroke="#000" stroke-width="1.9"/>
<text x="838.8" y="243.7" font-size="18" text-anchor="start" font-weight="normal" fill="#000" >Gluco dep (%)</text>
<rect x="963.0" y="231.4" width="14.2" height="12.2" fill="#f7cdec" stroke="#000" stroke-width="1.9"/>
<text x="986.9" y="243.7" font-size="18" text-anchor="start" font-weight="normal" fill="#000" >Glyco cap (%)</text>
<text x="822" y="165.6" font-size="15.9" fill="#1a1a2a">CD34<tspan font-size="11" dy="-7">+</tspan><tspan dy="7"> AML cells</tspan></text>
<text x="969" y="165" font-size="15.9" fill="#1a1a2a">CD34<tspan font-size="11" dy="-7">+</tspan><tspan dy="7"> AML cells</tspan></text>
<line x1="1240.6" y1="71.0" x2="1240.6" y2="293.8" stroke="#000" stroke-width="2.6" />
<line x1="1239.3" y1="292.6" x2="1570.0" y2="292.6" stroke="#000" stroke-width="2.6" />
<rect x="1258.8" y="90.3" width="32.7" height="202.3" fill="#7ba2d8" stroke="#2f5a9a" stroke-width="3"/>
<rect x="1291.5" y="252.6" width="33.5" height="40.0" fill="#7ba2d8" stroke="#2f5a9a" stroke-width="3"/>
<rect x="1325.0" y="114.8" width="33.0" height="177.8" fill="#7ba2d8" stroke="#2f5a9a" stroke-width="3"/>
<rect x="1358.0" y="276.1" width="32.8" height="16.5" fill="#7ba2d8" stroke="#2f5a9a" stroke-width="3"/>
<rect x="1424.4" y="87.4" width="32.6" height="205.2" fill="#a48bd8" stroke="#4a2d9a" stroke-width="3"/>
<rect x="1457.0" y="229.0" width="33.3" height="63.6" fill="#a48bd8" stroke="#4a2d9a" stroke-width="3"/>
<rect x="1490.3" y="137.2" width="33.2" height="155.4" fill="#a48bd8" stroke="#4a2d9a" stroke-width="3"/>
<rect x="1523.5" y="280.0" width="33.8" height="12.6" fill="#a48bd8" stroke="#4a2d9a" stroke-width="3"/>
<circle cx="1262.0" cy="74.0" r="5.3" fill="#7ba2d8" stroke="#2f5a9a" stroke-width="3.7"/>
<circle cx="1268.0" cy="74.0" r="5.3" fill="#7ba2d8" stroke="#2f5a9a" stroke-width="3.7"/>
<circle cx="1275.0" cy="73.7" r="5.3" fill="#7ba2d8" stroke="#2f5a9a" stroke-width="3.7"/>
<circle cx="1282.0" cy="74.0" r="5.3" fill="#7ba2d8" stroke="#2f5a9a" stroke-width="3.7"/>
<circle cx="1288.0" cy="75.0" r="5.3" fill="#7ba2d8" stroke="#2f5a9a" stroke-width="3.7"/>
<circle cx="1265.0" cy="80.0" r="5.3" fill="#7ba2d8" stroke="#2f5a9a" stroke-width="3.7"/>
<circle cx="1272.0" cy="79.0" r="5.3" fill="#7ba2d8" stroke="#2f5a9a" stroke-width="3.7"/>
<circle cx="1281.0" cy="80.0" r="5.3" fill="#7ba2d8" stroke="#2f5a9a" stroke-width="3.7"/>
<circle cx="1286.0" cy="82.0" r="5.3" fill="#7ba2d8" stroke="#2f5a9a" stroke-width="3.7"/>
<circle cx="1269.0" cy="86.0" r="5.3" fill="#7ba2d8" stroke="#2f5a9a" stroke-width="3.7"/>
<circle cx="1277.0" cy="87.4" r="5.3" fill="#7ba2d8" stroke="#2f5a9a" stroke-width="3.7"/>
<circle cx="1283.0" cy="86.0" r="5.3" fill="#7ba2d8" stroke="#2f5a9a" stroke-width="3.7"/>
<circle cx="1275.4" cy="97.0" r="5.3" fill="#7ba2d8" stroke="#2f5a9a" stroke-width="3.7"/>
<circle cx="1271.0" cy="99.0" r="5.3" fill="#7ba2d8" stroke="#2f5a9a" stroke-width="3.7"/>
<circle cx="1275.4" cy="112.8" r="5.3" fill="#7ba2d8" stroke="#2f5a9a" stroke-width="3.7"/>
<circle cx="1275.4" cy="123.6" r="5.3" fill="#7ba2d8" stroke="#2f5a9a" stroke-width="3.7"/>
<circle cx="1277.0" cy="138.0" r="5.3" fill="#7ba2d8" stroke="#2f5a9a" stroke-width="3.7"/>
<circle cx="1274.0" cy="146.0" r="5.3" fill="#7ba2d8" stroke="#2f5a9a" stroke-width="3.7"/>
<circle cx="1308.3" cy="109.9" r="5.3" fill="#7ba2d8" stroke="#2f5a9a" stroke-width="3.7"/>
<circle cx="1308.3" cy="150.4" r="5.3" fill="#7ba2d8" stroke="#2f5a9a" stroke-width="3.7"/>
<circle cx="1308.3" cy="200.4" r="5.3" fill="#7ba2d8" stroke="#2f5a9a" stroke-width="3.7"/>
<circle cx="1308.3" cy="224.4" r="5.3" fill="#7ba2d8" stroke="#2f5a9a" stroke-width="3.7"/>
<circle cx="1310.8" cy="228.7" r="5.3" fill="#7ba2d8" stroke="#2f5a9a" stroke-width="3.7"/>
<circle cx="1303.3" cy="233.7" r="5.3" fill="#7ba2d8" stroke="#2f5a9a" stroke-width="3.7"/>
<circle cx="1314.4" cy="234.4" r="5.3" fill="#7ba2d8" stroke="#2f5a9a" stroke-width="3.7"/>
<circle cx="1308.0" cy="249.2" r="5.3" fill="#7ba2d8" stroke="#2f5a9a" stroke-width="3.7"/>
<circle cx="1309.8" cy="262.4" r="5.3" fill="#7ba2d8" stroke="#2f5a9a" stroke-width="3.7"/>
<circle cx="1307.2" cy="269.6" r="5.3" fill="#7ba2d8" stroke="#2f5a9a" stroke-width="3.7"/>
<circle cx="1305.1" cy="279.0" r="5.3" fill="#7ba2d8" stroke="#2f5a9a" stroke-width="3.7"/>
<circle cx="1311.6" cy="276.1" r="5.3" fill="#7ba2d8" stroke="#2f5a9a" stroke-width="3.7"/>
<circle cx="1298.6" cy="281.8" r="5.3" fill="#7ba2d8" stroke="#2f5a9a" stroke-width="3.7"/>
<circle cx="1317.3" cy="287.6" r="5.3" fill="#7ba2d8" stroke="#2f5a9a" stroke-width="3.7"/>
<circle cx="1296.5" cy="291.9" r="5.3" fill="#7ba2d8" stroke="#2f5a9a" stroke-width="3.7"/>
<circle cx="1304.4" cy="289.0" r="5.3" fill="#7ba2d8" stroke="#2f5a9a" stroke-width="3.7"/>
<circle cx="1315.9" cy="292.6" r="5.3" fill="#7ba2d8" stroke="#2f5a9a" stroke-width="3.7"/>
<circle cx="1309.4" cy="294.8" r="5.3" fill="#7ba2d8" stroke="#2f5a9a" stroke-width="3.7"/>
<circle cx="1333.0" cy="74.0" r="5.3" fill="#7ba2d8" stroke="#2f5a9a" stroke-width="3.7"/>
<circle cx="1340.0" cy="73.0" r="5.3" fill="#7ba2d8" stroke="#2f5a9a" stroke-width="3.7"/>
<circle cx="1347.0" cy="75.0" r="5.3" fill="#7ba2d8" stroke="#2f5a9a" stroke-width="3.7"/>
<circle cx="1354.0" cy="78.0" r="5.3" fill="#7ba2d8" stroke="#2f5a9a" stroke-width="3.7"/>
<circle cx="1337.0" cy="81.0" r="5.3" fill="#7ba2d8" stroke="#2f5a9a" stroke-width="3.7"/>
<circle cx="1347.0" cy="84.0" r="5.3" fill="#7ba2d8" stroke="#2f5a9a" stroke-width="3.7"/>
<circle cx="1354.0" cy="87.0" r="5.3" fill="#7ba2d8" stroke="#2f5a9a" stroke-width="3.7"/>
<circle cx="1331.0" cy="87.0" r="5.3" fill="#7ba2d8" stroke="#2f5a9a" stroke-width="3.7"/>
<circle cx="1341.0" cy="93.0" r="5.3" fill="#7ba2d8" stroke="#2f5a9a" stroke-width="3.7"/>
<circle cx="1350.0" cy="96.0" r="5.3" fill="#7ba2d8" stroke="#2f5a9a" stroke-width="3.7"/>
<circle cx="1337.0" cy="99.0" r="5.3" fill="#7ba2d8" stroke="#2f5a9a" stroke-width="3.7"/>
<circle cx="1344.0" cy="102.0" r="5.3" fill="#7ba2d8" stroke="#2f5a9a" stroke-width="3.7"/>
<circle cx="1341.0" cy="115.7" r="5.3" fill="#7ba2d8" stroke="#2f5a9a" stroke-width="3.7"/>
<circle cx="1338.0" cy="131.4" r="5.3" fill="#7ba2d8" stroke="#2f5a9a" stroke-width="3.7"/>
<circle cx="1344.0" cy="133.0" r="5.3" fill="#7ba2d8" stroke="#2f5a9a" stroke-width="3.7"/>
<circle cx="1336.0" cy="140.2" r="5.3" fill="#7ba2d8" stroke="#2f5a9a" stroke-width="3.7"/>
<circle cx="1341.0" cy="164.6" r="5.3" fill="#7ba2d8" stroke="#2f5a9a" stroke-width="3.7"/>
<circle cx="1341.0" cy="214.5" r="5.3" fill="#7ba2d8" stroke="#2f5a9a" stroke-width="3.7"/>
<circle cx="1341.0" cy="255.6" r="5.3" fill="#7ba2d8" stroke="#2f5a9a" stroke-width="3.7"/>
<circle cx="1373.7" cy="217.9" r="5.3" fill="#7ba2d8" stroke="#2f5a9a" stroke-width="3.7"/>
<circle cx="1375.1" cy="226.5" r="5.3" fill="#7ba2d8" stroke="#2f5a9a" stroke-width="3.7"/>
<circle cx="1374.8" cy="242.0" r="5.3" fill="#7ba2d8" stroke="#2f5a9a" stroke-width="3.7"/>
<circle cx="1374.8" cy="252.0" r="5.3" fill="#7ba2d8" stroke="#2f5a9a" stroke-width="3.7"/>
<circle cx="1374.8" cy="264.6" r="5.3" fill="#7ba2d8" stroke="#2f5a9a" stroke-width="3.7"/>
<circle cx="1376.6" cy="268.2" r="5.3" fill="#7ba2d8" stroke="#2f5a9a" stroke-width="3.7"/>
<circle cx="1376.9" cy="279.0" r="5.3" fill="#7ba2d8" stroke="#2f5a9a" stroke-width="3.7"/>
<circle cx="1369.4" cy="284.4" r="5.3" fill="#7ba2d8" stroke="#2f5a9a" stroke-width="3.7"/>
<circle cx="1385.5" cy="292.6" r="5.3" fill="#7ba2d8" stroke="#2f5a9a" stroke-width="3.7"/>
<circle cx="1361.8" cy="292.6" r="5.3" fill="#7ba2d8" stroke="#2f5a9a" stroke-width="3.7"/>
<circle cx="1372.6" cy="290.5" r="5.3" fill="#7ba2d8" stroke="#2f5a9a" stroke-width="3.7"/>
<circle cx="1379.8" cy="285.4" r="5.3" fill="#7ba2d8" stroke="#2f5a9a" stroke-width="3.7"/>
<rect x="1423.1" y="67.6" width="10.4" height="10.4" fill="#a48bd8" stroke="#4a2d9a" stroke-width="3.9"/>
<rect x="1430.1" y="67.3" width="10.4" height="10.4" fill="#a48bd8" stroke="#4a2d9a" stroke-width="3.9"/>
<rect x="1440.3" y="67.3" width="10.4" height="10.4" fill="#a48bd8" stroke="#4a2d9a" stroke-width="3.9"/>
<rect x="1449.3" y="67.6" width="10.4" height="10.4" fill="#a48bd8" stroke="#4a2d9a" stroke-width="3.9"/>
<rect x="1435.8" y="76.5" width="10.4" height="10.4" fill="#a48bd8" stroke="#4a2d9a" stroke-width="3.9"/>
<rect x="1436.5" y="84.8" width="10.4" height="10.4" fill="#a48bd8" stroke="#4a2d9a" stroke-width="3.9"/>
<rect x="1438.1" y="94.4" width="10.4" height="10.4" fill="#a48bd8" stroke="#4a2d9a" stroke-width="3.9"/>
<rect x="1428.8" y="95.7" width="10.4" height="10.4" fill="#a48bd8" stroke="#4a2d9a" stroke-width="3.9"/>
<rect x="1440.3" y="102.7" width="10.4" height="10.4" fill="#a48bd8" stroke="#4a2d9a" stroke-width="3.9"/>
<rect x="1436.5" y="122.8" width="10.4" height="10.4" fill="#a48bd8" stroke="#4a2d9a" stroke-width="3.9"/>
<rect x="1468.4" y="93.8" width="10.4" height="10.4" fill="#a48bd8" stroke="#4a2d9a" stroke-width="3.9"/>
<rect x="1462.4" y="107.6" width="10.4" height="10.4" fill="#a48bd8" stroke="#4a2d9a" stroke-width="3.9"/>
<rect x="1468.4" y="117.3" width="10.4" height="10.4" fill="#a48bd8" stroke="#4a2d9a" stroke-width="3.9"/>
<rect x="1469.0" y="178.8" width="10.4" height="10.4" fill="#a48bd8" stroke="#4a2d9a" stroke-width="3.9"/>
<rect x="1463.3" y="191.3" width="10.4" height="10.4" fill="#a48bd8" stroke="#4a2d9a" stroke-width="3.9"/>
<rect x="1474.7" y="200.1" width="10.4" height="10.4" fill="#a48bd8" stroke="#4a2d9a" stroke-width="3.9"/>
<rect x="1463.3" y="204.8" width="10.4" height="10.4" fill="#a48bd8" stroke="#4a2d9a" stroke-width="3.9"/>
<rect x="1463.3" y="217.2" width="10.4" height="10.4" fill="#a48bd8" stroke="#4a2d9a" stroke-width="3.9"/>
<rect x="1474.7" y="215.7" width="10.4" height="10.4" fill="#a48bd8" stroke="#4a2d9a" stroke-width="3.9"/>
<rect x="1469.0" y="235.4" width="10.4" height="10.4" fill="#a48bd8" stroke="#4a2d9a" stroke-width="3.9"/>
<rect x="1477.8" y="232.3" width="10.4" height="10.4" fill="#a48bd8" stroke="#4a2d9a" stroke-width="3.9"/>
<rect x="1478.8" y="242.1" width="10.4" height="10.4" fill="#a48bd8" stroke="#4a2d9a" stroke-width="3.9"/>
<rect x="1469.0" y="248.8" width="10.4" height="10.4" fill="#a48bd8" stroke="#4a2d9a" stroke-width="3.9"/>
<rect x="1479.4" y="253.0" width="10.4" height="10.4" fill="#a48bd8" stroke="#4a2d9a" stroke-width="3.9"/>
<rect x="1458.1" y="258.7" width="10.4" height="10.4" fill="#a48bd8" stroke="#4a2d9a" stroke-width="3.9"/>
<rect x="1474.7" y="264.4" width="10.4" height="10.4" fill="#a48bd8" stroke="#4a2d9a" stroke-width="3.9"/>
<rect x="1461.2" y="268.6" width="10.4" height="10.4" fill="#a48bd8" stroke="#4a2d9a" stroke-width="3.9"/>
<rect x="1474.7" y="276.9" width="10.4" height="10.4" fill="#a48bd8" stroke="#4a2d9a" stroke-width="3.9"/>
<rect x="1458.1" y="283.6" width="10.4" height="10.4" fill="#a48bd8" stroke="#4a2d9a" stroke-width="3.9"/>
<rect x="1479.9" y="288.3" width="10.4" height="10.4" fill="#a48bd8" stroke="#4a2d9a" stroke-width="3.9"/>
<rect x="1465.4" y="278.8" width="10.4" height="10.4" fill="#a48bd8" stroke="#4a2d9a" stroke-width="3.9"/>
<rect x="1490.8" y="71.4" width="10.4" height="10.4" fill="#a48bd8" stroke="#4a2d9a" stroke-width="3.9"/>
<rect x="1512.4" y="76.3" width="10.4" height="10.4" fill="#a48bd8" stroke="#4a2d9a" stroke-width="3.9"/>
<rect x="1499.8" y="67.8" width="10.4" height="10.4" fill="#a48bd8" stroke="#4a2d9a" stroke-width="3.9"/>
<rect x="1490.8" y="90.0" width="10.4" height="10.4" fill="#a48bd8" stroke="#4a2d9a" stroke-width="3.9"/>
<rect x="1513.4" y="91.8" width="10.4" height="10.4" fill="#a48bd8" stroke="#4a2d9a" stroke-width="3.9"/>
<rect x="1507.5" y="96.8" width="10.4" height="10.4" fill="#a48bd8" stroke="#4a2d9a" stroke-width="3.9"/>
<rect x="1501.7" y="106.6" width="10.4" height="10.4" fill="#a48bd8" stroke="#4a2d9a" stroke-width="3.9"/>
<rect x="1510.4" y="111.5" width="10.4" height="10.4" fill="#a48bd8" stroke="#4a2d9a" stroke-width="3.9"/>
<rect x="1501.7" y="119.3" width="10.4" height="10.4" fill="#a48bd8" stroke="#4a2d9a" stroke-width="3.9"/>
<rect x="1495.7" y="138.8" width="10.4" height="10.4" fill="#a48bd8" stroke="#4a2d9a" stroke-width="3.9"/>
<rect x="1511.4" y="143.8" width="10.4" height="10.4" fill="#a48bd8" stroke="#4a2d9a" stroke-width="3.9"/>
<rect x="1501.7" y="150.6" width="10.4" height="10.4" fill="#a48bd8" stroke="#4a2d9a" stroke-width="3.9"/>
<rect x="1491.8" y="154.5" width="10.4" height="10.4" fill="#a48bd8" stroke="#4a2d9a" stroke-width="3.9"/>
<rect x="1501.7" y="165.8" width="10.4" height="10.4" fill="#a48bd8" stroke="#4a2d9a" stroke-width="3.9"/>
<rect x="1501.7" y="176.2" width="10.4" height="10.4" fill="#a48bd8" stroke="#4a2d9a" stroke-width="3.9"/>
<rect x="1507.4" y="237.4" width="10.4" height="10.4" fill="#a48bd8" stroke="#4a2d9a" stroke-width="3.9"/>
<rect x="1501.7" y="246.8" width="10.4" height="10.4" fill="#a48bd8" stroke="#4a2d9a" stroke-width="3.9"/>
<rect x="1501.7" y="260.8" width="10.4" height="10.4" fill="#a48bd8" stroke="#4a2d9a" stroke-width="3.9"/>
<rect x="1534.9" y="231.7" width="10.4" height="10.4" fill="#a48bd8" stroke="#4a2d9a" stroke-width="3.9"/>
<rect x="1539.0" y="260.3" width="10.4" height="10.4" fill="#a48bd8" stroke="#4a2d9a" stroke-width="3.9"/>
<rect x="1535.9" y="270.1" width="10.4" height="10.4" fill="#a48bd8" stroke="#4a2d9a" stroke-width="3.9"/>
<rect x="1529.7" y="254.0" width="10.4" height="10.4" fill="#a48bd8" stroke="#4a2d9a" stroke-width="3.9"/>
<rect x="1526.1" y="279.0" width="10.4" height="10.4" fill="#a48bd8" stroke="#4a2d9a" stroke-width="3.9"/>
<rect x="1545.8" y="277.9" width="10.4" height="10.4" fill="#a48bd8" stroke="#4a2d9a" stroke-width="3.9"/>
<rect x="1524.5" y="287.8" width="10.4" height="10.4" fill="#a48bd8" stroke="#4a2d9a" stroke-width="3.9"/>
<rect x="1535.4" y="287.8" width="10.4" height="10.4" fill="#a48bd8" stroke="#4a2d9a" stroke-width="3.9"/>
<rect x="1547.9" y="287.3" width="10.4" height="10.4" fill="#a48bd8" stroke="#4a2d9a" stroke-width="3.9"/>
<line x1="1232.0" y1="292.6" x2="1240.6" y2="292.6" stroke="#000" stroke-width="2.6" />
<text x="1229.5" y="298.6" font-size="17" text-anchor="end" font-weight="normal" fill="#000" >0</text>
<line x1="1232.0" y1="182.3" x2="1240.6" y2="182.3" stroke="#000" stroke-width="2.6" />
<text x="1229.5" y="188.3" font-size="17" text-anchor="end" font-weight="normal" fill="#000" >50</text>
<line x1="1232.0" y1="72.0" x2="1240.6" y2="72.0" stroke="#000" stroke-width="2.6" />
<text x="1229.5" y="78.0" font-size="17" text-anchor="end" font-weight="normal" fill="#000" >100</text>
<line x1="1274.8" y1="292.6" x2="1274.8" y2="301.5" stroke="#000" stroke-width="2.6" />
<text transform="translate(1283.3,323.0) rotate(-45)" font-size="24.6" text-anchor="end">Gluco dep</text>
<line x1="1307.6" y1="292.6" x2="1307.6" y2="301.5" stroke="#000" stroke-width="2.6" />
<text transform="translate(1316.1,323.0) rotate(-45)" font-size="24.6" text-anchor="end">Mito dep</text>
<line x1="1341.0" y1="292.6" x2="1341.0" y2="301.5" stroke="#000" stroke-width="2.6" />
<text transform="translate(1349.5,323.0) rotate(-45)" font-size="24.6" text-anchor="end">Glyco cap</text>
<line x1="1374.6" y1="292.6" x2="1374.6" y2="301.5" stroke="#000" stroke-width="2.6" />
<text transform="translate(1383.1,323.0) rotate(-45)" font-size="24.6" text-anchor="end">FAAO cap</text>
<line x1="1441.0" y1="292.6" x2="1441.0" y2="301.5" stroke="#000" stroke-width="2.6" />
<text transform="translate(1449.5,323.0) rotate(-45)" font-size="24.6" text-anchor="end">Gluco dep</text>
<line x1="1473.5" y1="292.6" x2="1473.5" y2="301.5" stroke="#000" stroke-width="2.6" />
<text transform="translate(1482.0,323.0) rotate(-45)" font-size="24.6" text-anchor="end">Mito dep</text>
<line x1="1507.0" y1="292.6" x2="1507.0" y2="301.5" stroke="#000" stroke-width="2.6" />
<text transform="translate(1515.5,323.0) rotate(-45)" font-size="24.6" text-anchor="end">Glyco cap</text>
<line x1="1540.5" y1="292.6" x2="1540.5" y2="301.5" stroke="#000" stroke-width="2.6" />
<text transform="translate(1549.0,323.0) rotate(-45)" font-size="24.6" text-anchor="end">FAAO cap</text>
<text transform="translate(1190,183.4) rotate(-90)" font-size="22" text-anchor="middle">Percentage (%)</text>
<circle cx="1256.4" cy="14.4" r="5.3" fill="#7ba2d8" stroke="#2f5a9a" stroke-width="3.7"/>
<text x="1280.8" y="23.1" font-size="21.2">PB CD34<tspan font-size="14.5" dx="1" dy="-9.3">+</tspan></text>
<rect x="1415.3" y="9.2" width="10.4" height="10.4" fill="#a48bd8" stroke="#4a2d9a" stroke-width="3.9"/>
<text x="1445.6" y="23.1" font-size="21.2">BM CD34<tspan font-size="14.5" dx="1" dy="-9.3">+</tspan></text>
<line x1="1671.6" y1="80.5" x2="1671.6" y2="292.8" stroke="#000" stroke-width="2.6" />
<line x1="1670.3" y1="291.6" x2="2012.5" y2="291.6" stroke="#000" stroke-width="2.6" />
<rect x="1689.8" y="95.9" width="33.0" height="195.7" fill="#7ba2d8" stroke="#2f5a9a" stroke-width="3"/>
<rect x="1722.8" y="262.2" width="34.5" height="29.4" fill="#7ba2d8" stroke="#2f5a9a" stroke-width="3"/>
<rect x="1757.8" y="112.8" width="32.5" height="178.9" fill="#7ba2d8" stroke="#2f5a9a" stroke-width="3"/>
<rect x="1790.2" y="279.0" width="34.5" height="12.6" fill="#7ba2d8" stroke="#2f5a9a" stroke-width="3"/>
<rect x="1859.4" y="98.1" width="32.3" height="193.5" fill="#a48bd8" stroke="#4a2d9a" stroke-width="3"/>
<rect x="1891.7" y="246.4" width="34.3" height="45.2" fill="#a48bd8" stroke="#4a2d9a" stroke-width="3"/>
<rect x="1927.3" y="131.0" width="32.5" height="160.6" fill="#a48bd8" stroke="#4a2d9a" stroke-width="3"/>
<rect x="1959.8" y="277.4" width="34.7" height="14.2" fill="#a48bd8" stroke="#4a2d9a" stroke-width="3"/>
<line x1="1740.0" y1="262.2" x2="1740.0" y2="247.2" stroke="#2f5a9a" stroke-width="3" />
<line x1="1731.7" y1="247.2" x2="1748.3" y2="247.2" stroke="#2f5a9a" stroke-width="3" />
<line x1="1807.5" y1="279.0" x2="1807.5" y2="273.4" stroke="#2f5a9a" stroke-width="3" />
<line x1="1799.2" y1="273.4" x2="1815.8" y2="273.4" stroke="#2f5a9a" stroke-width="3" />
<line x1="1909.6" y1="246.4" x2="1909.6" y2="226.7" stroke="#4a2d9a" stroke-width="3" />
<line x1="1901.3" y1="226.7" x2="1917.9" y2="226.7" stroke="#4a2d9a" stroke-width="3" />
<line x1="1943.3" y1="131.0" x2="1943.3" y2="112.2" stroke="#4a2d9a" stroke-width="3" />
<line x1="1935.0" y1="112.2" x2="1951.6" y2="112.2" stroke="#4a2d9a" stroke-width="3" />
<line x1="1977.2" y1="277.4" x2="1977.2" y2="271.2" stroke="#4a2d9a" stroke-width="3" />
<line x1="1968.9" y1="271.2" x2="1985.5" y2="271.2" stroke="#4a2d9a" stroke-width="3" />
<circle cx="1694.0" cy="83.0" r="5.3" fill="#7ba2d8" stroke="#2f5a9a" stroke-width="3.7"/>
<circle cx="1700.6" cy="81.0" r="5.3" fill="#7ba2d8" stroke="#2f5a9a" stroke-width="3.7"/>
<circle cx="1715.6" cy="81.0" r="5.3" fill="#7ba2d8" stroke="#2f5a9a" stroke-width="3.7"/>
<circle cx="1718.4" cy="81.0" r="5.3" fill="#7ba2d8" stroke="#2f5a9a" stroke-width="3.7"/>
<circle cx="1708.0" cy="87.0" r="5.3" fill="#7ba2d8" stroke="#2f5a9a" stroke-width="3.7"/>
<circle cx="1703.4" cy="104.7" r="5.3" fill="#7ba2d8" stroke="#2f5a9a" stroke-width="3.7"/>
<circle cx="1709.0" cy="115.0" r="5.3" fill="#7ba2d8" stroke="#2f5a9a" stroke-width="3.7"/>
<circle cx="1703.4" cy="125.3" r="5.3" fill="#7ba2d8" stroke="#2f5a9a" stroke-width="3.7"/>
<circle cx="1740.0" cy="156.3" r="5.3" fill="#7ba2d8" stroke="#2f5a9a" stroke-width="3.7"/>
<circle cx="1740.0" cy="235.0" r="5.3" fill="#7ba2d8" stroke="#2f5a9a" stroke-width="3.7"/>
<circle cx="1740.0" cy="260.3" r="5.3" fill="#7ba2d8" stroke="#2f5a9a" stroke-width="3.7"/>
<circle cx="1743.8" cy="272.5" r="5.3" fill="#7ba2d8" stroke="#2f5a9a" stroke-width="3.7"/>
<circle cx="1728.8" cy="279.0" r="5.3" fill="#7ba2d8" stroke="#2f5a9a" stroke-width="3.7"/>
<circle cx="1736.3" cy="282.8" r="5.3" fill="#7ba2d8" stroke="#2f5a9a" stroke-width="3.7"/>
<circle cx="1751.3" cy="286.6" r="5.3" fill="#7ba2d8" stroke="#2f5a9a" stroke-width="3.7"/>
<circle cx="1728.8" cy="290.3" r="5.3" fill="#7ba2d8" stroke="#2f5a9a" stroke-width="3.7"/>
<circle cx="1743.8" cy="291.3" r="5.3" fill="#7ba2d8" stroke="#2f5a9a" stroke-width="3.7"/>
<circle cx="1761.6" cy="82.2" r="5.3" fill="#7ba2d8" stroke="#2f5a9a" stroke-width="3.7"/>
<circle cx="1770.0" cy="86.9" r="5.3" fill="#7ba2d8" stroke="#2f5a9a" stroke-width="3.7"/>
<circle cx="1786.0" cy="82.2" r="5.3" fill="#7ba2d8" stroke="#2f5a9a" stroke-width="3.7"/>
<circle cx="1777.5" cy="91.6" r="5.3" fill="#7ba2d8" stroke="#2f5a9a" stroke-width="3.7"/>
<circle cx="1786.0" cy="94.4" r="5.3" fill="#7ba2d8" stroke="#2f5a9a" stroke-width="3.7"/>
<circle cx="1770.0" cy="101.0" r="5.3" fill="#7ba2d8" stroke="#2f5a9a" stroke-width="3.7"/>
<circle cx="1773.5" cy="113.0" r="5.3" fill="#7ba2d8" stroke="#2f5a9a" stroke-width="3.7"/>
<circle cx="1773.5" cy="137.5" r="5.3" fill="#7ba2d8" stroke="#2f5a9a" stroke-width="3.7"/>
<circle cx="1773.5" cy="217.2" r="5.3" fill="#7ba2d8" stroke="#2f5a9a" stroke-width="3.7"/>
<circle cx="1805.6" cy="248.0" r="5.3" fill="#7ba2d8" stroke="#2f5a9a" stroke-width="3.7"/>
<circle cx="1810.3" cy="258.4" r="5.3" fill="#7ba2d8" stroke="#2f5a9a" stroke-width="3.7"/>
<circle cx="1804.7" cy="267.8" r="5.3" fill="#7ba2d8" stroke="#2f5a9a" stroke-width="3.7"/>
<circle cx="1800.0" cy="282.8" r="5.3" fill="#7ba2d8" stroke="#2f5a9a" stroke-width="3.7"/>
<circle cx="1809.4" cy="283.8" r="5.3" fill="#7ba2d8" stroke="#2f5a9a" stroke-width="3.7"/>
<circle cx="1796.3" cy="291.3" r="5.3" fill="#7ba2d8" stroke="#2f5a9a" stroke-width="3.7"/>
<circle cx="1805.6" cy="291.3" r="5.3" fill="#7ba2d8" stroke="#2f5a9a" stroke-width="3.7"/>
<circle cx="1819.7" cy="289.4" r="5.3" fill="#7ba2d8" stroke="#2f5a9a" stroke-width="3.7"/>
<rect x="1864.5" y="77.8" width="10.4" height="10.4" fill="#a48bd8" stroke="#4a2d9a" stroke-width="3.9"/>
<rect x="1875.8" y="78.8" width="10.4" height="10.4" fill="#a48bd8" stroke="#4a2d9a" stroke-width="3.9"/>
<rect x="1883.3" y="80.8" width="10.4" height="10.4" fill="#a48bd8" stroke="#4a2d9a" stroke-width="3.9"/>
<rect x="1856.8" y="85.8" width="10.4" height="10.4" fill="#a48bd8" stroke="#4a2d9a" stroke-width="3.9"/>
<rect x="1870.1" y="87.3" width="10.4" height="10.4" fill="#a48bd8" stroke="#4a2d9a" stroke-width="3.9"/>
<rect x="1864.5" y="117.3" width="10.4" height="10.4" fill="#a48bd8" stroke="#4a2d9a" stroke-width="3.9"/>
<rect x="1875.8" y="113.6" width="10.4" height="10.4" fill="#a48bd8" stroke="#4a2d9a" stroke-width="3.9"/>
<rect x="1904.5" y="120.2" width="10.4" height="10.4" fill="#a48bd8" stroke="#4a2d9a" stroke-width="3.9"/>
<rect x="1904.5" y="204.6" width="10.4" height="10.4" fill="#a48bd8" stroke="#4a2d9a" stroke-width="3.9"/>
<rect x="1892.6" y="236.5" width="10.4" height="10.4" fill="#a48bd8" stroke="#4a2d9a" stroke-width="3.9"/>
<rect x="1904.5" y="230.8" width="10.4" height="10.4" fill="#a48bd8" stroke="#4a2d9a" stroke-width="3.9"/>
<rect x="1904.5" y="244.9" width="10.4" height="10.4" fill="#a48bd8" stroke="#4a2d9a" stroke-width="3.9"/>
<rect x="1892.6" y="273.1" width="10.4" height="10.4" fill="#a48bd8" stroke="#4a2d9a" stroke-width="3.9"/>
<rect x="1904.5" y="275.9" width="10.4" height="10.4" fill="#a48bd8" stroke="#4a2d9a" stroke-width="3.9"/>
<rect x="1916.2" y="281.5" width="10.4" height="10.4" fill="#a48bd8" stroke="#4a2d9a" stroke-width="3.9"/>
<rect x="1892.6" y="285.3" width="10.4" height="10.4" fill="#a48bd8" stroke="#4a2d9a" stroke-width="3.9"/>
<rect x="1926.4" y="87.3" width="10.4" height="10.4" fill="#a48bd8" stroke="#4a2d9a" stroke-width="3.9"/>
<rect x="1938.1" y="81.7" width="10.4" height="10.4" fill="#a48bd8" stroke="#4a2d9a" stroke-width="3.9"/>
<rect x="1949.8" y="77.9" width="10.4" height="10.4" fill="#a48bd8" stroke="#4a2d9a" stroke-width="3.9"/>
<rect x="1949.8" y="90.1" width="10.4" height="10.4" fill="#a48bd8" stroke="#4a2d9a" stroke-width="3.9"/>
<rect x="1938.1" y="119.2" width="10.4" height="10.4" fill="#a48bd8" stroke="#4a2d9a" stroke-width="3.9"/>
<rect x="1949.8" y="126.7" width="10.4" height="10.4" fill="#a48bd8" stroke="#4a2d9a" stroke-width="3.9"/>
<rect x="1938.1" y="132.4" width="10.4" height="10.4" fill="#a48bd8" stroke="#4a2d9a" stroke-width="3.9"/>
<rect x="1938.1" y="159.6" width="10.4" height="10.4" fill="#a48bd8" stroke="#4a2d9a" stroke-width="3.9"/>
<rect x="1938.1" y="243.1" width="10.4" height="10.4" fill="#a48bd8" stroke="#4a2d9a" stroke-width="3.9"/>
<rect x="1965.8" y="246.8" width="10.4" height="10.4" fill="#a48bd8" stroke="#4a2d9a" stroke-width="3.9"/>
<rect x="1978.0" y="249.6" width="10.4" height="10.4" fill="#a48bd8" stroke="#4a2d9a" stroke-width="3.9"/>
<rect x="1959.3" y="275.8" width="10.4" height="10.4" fill="#a48bd8" stroke="#4a2d9a" stroke-width="3.9"/>
<rect x="1983.7" y="275.8" width="10.4" height="10.4" fill="#a48bd8" stroke="#4a2d9a" stroke-width="3.9"/>
<rect x="1972.4" y="284.3" width="10.4" height="10.4" fill="#a48bd8" stroke="#4a2d9a" stroke-width="3.9"/>
<rect x="1959.3" y="285.3" width="10.4" height="10.4" fill="#a48bd8" stroke="#4a2d9a" stroke-width="3.9"/>
<rect x="1983.7" y="285.8" width="10.4" height="10.4" fill="#a48bd8" stroke="#4a2d9a" stroke-width="3.9"/>
<line x1="1663.0" y1="291.6" x2="1671.6" y2="291.6" stroke="#000" stroke-width="2.6" />
<text x="1660.5" y="297.4" font-size="16.2" text-anchor="end" font-weight="normal" fill="#000" >0</text>
<line x1="1663.0" y1="186.6" x2="1671.6" y2="186.6" stroke="#000" stroke-width="2.6" />
<text x="1660.5" y="192.4" font-size="16.2" text-anchor="end" font-weight="normal" fill="#000" >50</text>
<line x1="1663.0" y1="81.5" x2="1671.6" y2="81.5" stroke="#000" stroke-width="2.6" />
<text x="1660.5" y="87.3" font-size="16.2" text-anchor="end" font-weight="normal" fill="#000" >100</text>
<line x1="1705.8" y1="291.6" x2="1705.8" y2="300.5" stroke="#000" stroke-width="2.6" />
<text transform="translate(1715.8,321.0) rotate(-45)" font-size="23.4" text-anchor="end">Gluco dep</text>
<line x1="1740.0" y1="291.6" x2="1740.0" y2="300.5" stroke="#000" stroke-width="2.6" />
<text transform="translate(1750.0,321.0) rotate(-45)" font-size="23.4" text-anchor="end">Mito dep</text>
<line x1="1773.5" y1="291.6" x2="1773.5" y2="300.5" stroke="#000" stroke-width="2.6" />
<text transform="translate(1783.5,321.0) rotate(-45)" font-size="23.4" text-anchor="end">Glyco cap</text>
<line x1="1807.3" y1="291.6" x2="1807.3" y2="300.5" stroke="#000" stroke-width="2.6" />
<text transform="translate(1817.3,321.0) rotate(-45)" font-size="23.4" text-anchor="end">FAAO cap</text>
<line x1="1875.0" y1="291.6" x2="1875.0" y2="300.5" stroke="#000" stroke-width="2.6" />
<text transform="translate(1885.0,321.0) rotate(-45)" font-size="23.4" text-anchor="end">Gluco dep</text>
<line x1="1909.6" y1="291.6" x2="1909.6" y2="300.5" stroke="#000" stroke-width="2.6" />
<text transform="translate(1919.6,321.0) rotate(-45)" font-size="23.4" text-anchor="end">Mito dep</text>
<line x1="1942.8" y1="291.6" x2="1942.8" y2="300.5" stroke="#000" stroke-width="2.6" />
<text transform="translate(1952.8,321.0) rotate(-45)" font-size="23.4" text-anchor="end">Glyco cap</text>
<line x1="1976.3" y1="291.6" x2="1976.3" y2="300.5" stroke="#000" stroke-width="2.6" />
<text transform="translate(1986.3,321.0) rotate(-45)" font-size="23.4" text-anchor="end">FAAO cap</text>
<text transform="translate(1621.5,187.7) rotate(-90)" font-size="20.8" text-anchor="middle">Percentage (%)</text>
<polyline points="1740.4,129.5 1740.4,68.1 1910.0,68.1 1910.0,95.5" fill="none" stroke="#000" stroke-width="2.4" stroke-linejoin="miter"/>
<polyline points="1773.4,59.6 1773.4,45.4 1943.6,45.4 1943.6,59.6" fill="none" stroke="#000" stroke-width="2.4" stroke-linejoin="miter"/>
<path d="M1825.4,51.1V60.5M1821.3,53.4L1829.5,58.1M1821.3,58.1L1829.5,53.4" stroke="#000" stroke-width="1.9" stroke-linecap="round" fill="none"/>
<path d="M1859.5,28.4V37.8M1855.4,30.8L1863.6,35.5M1855.4,35.5L1863.6,30.8" stroke="#000" stroke-width="1.9" stroke-linecap="round" fill="none"/>
<circle cx="1678.9" cy="13.2" r="5.3" fill="#7ba2d8" stroke="#2f5a9a" stroke-width="3.7"/>
<text x="1703" y="21.7" font-size="19.8">PB CD34<tspan font-size="14" dx="1" dy="-9">+</tspan></text>
<rect x="1832.5" y="8.0" width="10.4" height="10.4" fill="#a48bd8" stroke="#4a2d9a" stroke-width="3.9"/>
<text x="1862" y="21.7" font-size="19.8">PB CD34<tspan font-size="14" dx="1" dy="-9">+</tspan><tspan dy="9">CD38</tspan><tspan font-size="13.5" dx="1" dy="-9.5">low/-</tspan></text>
<text x="138.7" y="478.0" font-size="30.3" text-anchor="start" font-weight="bold" fill="#000" >AML patients stratified by ELN2022 risk</text>
<polyline points="138.7,509.0 138.7,498.6 708.3,498.6 708.3,508.8" fill="none" stroke="#000" stroke-width="1.6" stroke-linejoin="miter"/>
<line x1="431.4" y1="498.6" x2="431.4" y2="508.8" stroke="#000" stroke-width="1.6" />
<text x="88.0" y="538.6" font-size="23.5" text-anchor="start" font-weight="bold" fill="#000" >Favorable</text>
<text x="355.3" y="541.6" font-size="24" text-anchor="start" font-weight="bold" fill="#000" >Intermediate</text>
<text x="660.4" y="537.3" font-size="23.5" text-anchor="start" font-weight="bold" fill="#000" >Adverse</text>
<rect x="76.0" y="560.6" width="22.3" height="14.7" fill="#addfad" stroke="#000" stroke-width="2.4"/>
<text x="112.0" y="575.3" font-size="21.2" text-anchor="start" font-weight="normal" fill="#000" >FAAO cap (%)</text>
<rect x="359.7" y="561.7" width="21.8" height="13.5" fill="#addfad" stroke="#000" stroke-width="2.4"/>
<text x="395.5" y="575.8" font-size="21.2" text-anchor="start" font-weight="normal" fill="#000" >FAAO cap (%)</text>
<rect x="633.6" y="561.4" width="22.4" height="13.4" fill="#addfad" stroke="#000" stroke-width="2.4"/>
<text x="670.4" y="575.5" font-size="21.2" text-anchor="start" font-weight="normal" fill="#000" >FAAO cap (%)</text>
<rect x="69.7" y="824.9" width="23.1" height="13.5" fill="#8badd5" stroke="#000" stroke-width="2.4"/>
<text x="106.4" y="838.4" font-size="21.2" text-anchor="start" font-weight="normal" fill="#000" >Gluco dep (%)</text>
<rect x="353.6" y="822.2" width="22.2" height="14.4" fill="#8badd5" stroke="#000" stroke-width="2.4"/>
<text x="390.5" y="836.6" font-size="21.2" text-anchor="start" font-weight="normal" fill="#000" >Gluco dep (%)</text>
<rect x="627.9" y="822.9" width="22.4" height="14.4" fill="#8badd5" stroke="#000" stroke-width="2.4"/>
<text x="664.7" y="837.3" font-size="21.2" text-anchor="start" font-weight="normal" fill="#000" >Gluco dep (%)</text>
<ellipse cx="143.6" cy="697.7" rx="109.6" ry="112.5" fill="#8badd5"/>
<path d="M143.6,697.7 L143.6,585.2 A109.6,112.5 0 0 0 47.2,644.1 Z" fill="#addfad"/>
<ellipse cx="143.6" cy="697.7" rx="109.6" ry="112.5" fill="none" stroke="#000" stroke-width="2.6"/>
<ellipse cx="426.7" cy="697.4" rx="109" ry="111.5" fill="#8badd5"/>
<path d="M426.7,697.4 L426.7,585.9 A109,111.5 0 0 0 363.2,606.8 Z" fill="#addfad"/>
<ellipse cx="426.7" cy="697.4" rx="109" ry="111.5" fill="none" stroke="#000" stroke-width="2.6"/>
<ellipse cx="701.2" cy="697.0" rx="109.5" ry="111.8" fill="#8badd5"/>
<path d="M701.2,697.0 L701.2,585.2 A109.5,111.8 0 0 0 593.4,677.4 Z" fill="#addfad"/>
<ellipse cx="701.2" cy="697.0" rx="109.5" ry="111.8" fill="none" stroke="#000" stroke-width="2.6"/>
<text x="90.0" y="894.0" font-size="23.5" text-anchor="start" font-weight="bold" fill="#000" >Favorable</text>
<text x="356.3" y="887.0" font-size="24" text-anchor="start" font-weight="bold" fill="#000" >Intermediate</text>
<text x="652.8" y="888.0" font-size="23.5" text-anchor="start" font-weight="bold" fill="#000" >Adverse</text>
<rect x="77.8" y="913.4" width="22.6" height="14.4" fill="#a48cd4" stroke="#000" stroke-width="2.4"/>
<text x="114.2" y="927.8" font-size="21.2" text-anchor="start" font-weight="normal" fill="#000" >Mito dep (%)</text>
<rect x="360.5" y="910.1" width="22.5" height="14.5" fill="#a48cd4" stroke="#000" stroke-width="2.4"/>
<text x="397.1" y="924.6" font-size="21.2" text-anchor="start" font-weight="normal" fill="#000" >Mito dep (%)</text>
<rect x="634.5" y="908.9" width="22.5" height="14.1" fill="#a48cd4" stroke="#000" stroke-width="2.4"/>
<text x="671.5" y="923.0" font-size="21.2" text-anchor="start" font-weight="normal" fill="#000" >Mito dep (%)</text>
<rect x="71.4" y="1174.9" width="22.5" height="13.5" fill="#f7cdec" stroke="#000" stroke-width="2.4"/>
<text x="107.8" y="1188.4" font-size="21.2" text-anchor="start" font-weight="normal" fill="#000" >Glyco cap (%)</text>
<rect x="354.0" y="1171.6" width="22.6" height="14.4" fill="#f7cdec" stroke="#000" stroke-width="2.4"/>
<text x="390.7" y="1186.0" font-size="21.2" text-anchor="start" font-weight="normal" fill="#000" >Glyco cap (%)</text>
<rect x="628.0" y="1172.3" width="22.6" height="14.5" fill="#f7cdec" stroke="#000" stroke-width="2.4"/>
<text x="664.4" y="1186.8" font-size="21.2" text-anchor="start" font-weight="normal" fill="#000" >Glyco cap (%)</text>
<ellipse cx="144.4" cy="1049.4" rx="109" ry="112" fill="#f7cdec"/>
<path d="M144.4,1049.4 L144.4,937.4 A109,112 0 0 1 198.1,951.9 Z" fill="#a48cd4"/>
<ellipse cx="144.4" cy="1049.4" rx="109" ry="112" fill="none" stroke="#000" stroke-width="2.6"/>
<ellipse cx="427.5" cy="1046.5" rx="109.8" ry="112.2" fill="#f7cdec"/>
<path d="M427.5,1046.5 L427.5,934.3 A109.8,112.2 0 0 1 535.7,1027.6 Z" fill="#a48cd4"/>
<ellipse cx="427.5" cy="1046.5" rx="109.8" ry="112.2" fill="none" stroke="#000" stroke-width="2.6"/>
<ellipse cx="702.2" cy="1046.2" rx="110.2" ry="113.2" fill="#f7cdec"/>
<path d="M702.2,1046.2 L702.2,933.0 A110.2,113.2 0 0 1 811.9,1035.5 Z" fill="#a48cd4"/>
<ellipse cx="702.2" cy="1046.2" rx="110.2" ry="113.2" fill="none" stroke="#000" stroke-width="2.6"/>
<line x1="1065.4" y1="568.5" x2="1426.6" y2="701.7" stroke="#1f8593" stroke-width="2.0" />
<line x1="1065.4" y1="585.7" x2="1426.6" y2="708.8" stroke="#8babdb" stroke-width="1.5" />
<polygon points="1065.4,564.2 1071.7,575.2 1059.1,575.2" fill="#1f8593"/>
<polygon points="1219.0,625.3 1225.3,636.3 1212.7,636.3" fill="#1f8593"/>
<polygon points="1255.3,573.9 1261.6,584.9 1249.0,584.9" fill="#1f8593"/>
<polygon points="1291.6,726.5 1297.9,737.5 1285.3,737.5" fill="#1f8593"/>
<polygon points="1383.5,675.6 1389.8,686.6 1377.2,686.6" fill="#1f8593"/>
<polygon points="1391.4,605.5 1397.7,616.5 1385.1,616.5" fill="#1f8593"/>
<polygon points="1424.8,683.4 1431.1,694.4 1418.5,694.4" fill="#1f8593"/>
<polygon points="1427.3,687.0 1433.6,698.0 1421.0,698.0" fill="#1f8593"/>
<polygon points="1426.6,733.6 1432.9,744.6 1420.3,744.6" fill="#1f8593"/>
<rect x="1059.4" y="593.0" width="10.6" height="10.6" fill="#8babdb"/>
<rect x="1213.7" y="610.9" width="10.6" height="10.6" fill="#8babdb"/>
<rect x="1250.0" y="610.9" width="10.6" height="10.6" fill="#8babdb"/>
<rect x="1286.3" y="714.3" width="10.6" height="10.6" fill="#8babdb"/>
<rect x="1378.2" y="709.7" width="10.6" height="10.6" fill="#8babdb"/>
<rect x="1386.1" y="618.1" width="10.6" height="10.6" fill="#8babdb"/>
<rect x="1402.3" y="739.5" width="10.6" height="10.6" fill="#8babdb"/>
<rect x="1419.2" y="689.2" width="10.6" height="10.6" fill="#8babdb"/>
<rect x="1422.0" y="700.0" width="10.6" height="10.6" fill="#8babdb"/>
<rect x="1422.0" y="733.0" width="10.6" height="10.6" fill="#8babdb"/>
<line x1="993.8" y1="490.5" x2="993.8" y2="746.2" stroke="#000" stroke-width="2.8" />
<line x1="992.5" y1="745.0" x2="1428.0" y2="745.0" stroke="#000" stroke-width="2.8" />
<line x1="982.4" y1="745.0" x2="993.8" y2="745.0" stroke="#000" stroke-width="2.8" />
<text x="980.3" y="752.5" font-size="20" text-anchor="end" font-weight="normal" fill="#000" >0</text>
<line x1="982.4" y1="694.3" x2="993.8" y2="694.3" stroke="#000" stroke-width="2.8" />
<text x="980.3" y="701.8" font-size="20" text-anchor="end" font-weight="normal" fill="#000" >20</text>
<line x1="982.4" y1="643.7" x2="993.8" y2="643.7" stroke="#000" stroke-width="2.8" />
<text x="980.3" y="651.2" font-size="20" text-anchor="end" font-weight="normal" fill="#000" >40</text>
<line x1="982.4" y1="593.0" x2="993.8" y2="593.0" stroke="#000" stroke-width="2.8" />
<text x="980.3" y="600.5" font-size="20" text-anchor="end" font-weight="normal" fill="#000" >60</text>
<line x1="982.4" y1="542.4" x2="993.8" y2="542.4" stroke="#000" stroke-width="2.8" />
<text x="980.3" y="549.9" font-size="20" text-anchor="end" font-weight="normal" fill="#000" >80</text>
<line x1="982.4" y1="491.7" x2="993.8" y2="491.7" stroke="#000" stroke-width="2.8" />
<text x="980.3" y="499.2" font-size="20" text-anchor="end" font-weight="normal" fill="#000" >100</text>
<line x1="993.8" y1="745.0" x2="993.8" y2="755.5" stroke="#000" stroke-width="2.8" />
<text x="993.8" y="778.6" font-size="20" text-anchor="middle" font-weight="normal" fill="#000" >60</text>
<line x1="1102.0" y1="745.0" x2="1102.0" y2="755.5" stroke="#000" stroke-width="2.8" />
<text x="1102.0" y="778.6" font-size="20" text-anchor="middle" font-weight="normal" fill="#000" >70</text>
<line x1="1210.2" y1="745.0" x2="1210.2" y2="755.5" stroke="#000" stroke-width="2.8" />
<text x="1210.2" y="778.6" font-size="20" text-anchor="middle" font-weight="normal" fill="#000" >80</text>
<line x1="1318.4" y1="745.0" x2="1318.4" y2="755.5" stroke="#000" stroke-width="2.8" />
<text x="1318.4" y="778.6" font-size="20" text-anchor="middle" font-weight="normal" fill="#000" >90</text>
<line x1="1426.6" y1="745.0" x2="1426.6" y2="755.5" stroke="#000" stroke-width="2.8" />
<text x="1426.6" y="778.6" font-size="20" text-anchor="middle" font-weight="normal" fill="#000" >100</text>
<text x="1210.8" y="815.7" font-size="27.6" text-anchor="middle" font-weight="normal" fill="#000" >Gluco dep (%)</text>
<text transform="translate(900.7,633.5) rotate(-90)" font-size="28.5" text-anchor="middle">Redox metabolic</text>
<text transform="translate(932.6,630.3) rotate(-90)" font-size="28.5" text-anchor="middle">subsets (%)</text>
<text x="1065.0" y="472.6" font-size="22.2" text-anchor="start" font-weight="bold" fill="#000" textLength="253.8" lengthAdjust="spacingAndGlyphs">ELN2022 adverse-risk</text>
<line x1="1020.5" y1="502.0" x2="1047.8" y2="502.0" stroke="#1f8593" stroke-width="2" />
<polygon points="1034.2,496.6 1040.5,507.6 1027.9,507.6" fill="#1f8593"/>
<line x1="1020.5" y1="529.9" x2="1047.8" y2="529.9" stroke="#8babdb" stroke-width="2" />
<rect x="1028.9" y="524.6" width="10.6" height="10.6" fill="#8babdb"/>
<text x="1062.8" y="511.4" font-size="24.5" text-anchor="start" ><tspan font-size="24.5">ROS</tspan><tspan font-size="17.1" dy="-9.6">lo</tspan><tspan font-size="24.5" dy="9.6">&#160;MITO</tspan><tspan font-size="17.1" dy="-9.6">hi</tspan></text>
<text x="1062.8" y="538.7" font-size="24.5" text-anchor="start" ><tspan font-size="24.5">ROS</tspan><tspan font-size="17.1" dy="-9.6">lo</tspan><tspan font-size="24.5" dy="9.6">&#160;GSH</tspan><tspan font-size="17.1" dy="-9.6">hi</tspan></text>
<text x="1223.5" y="511.4" font-size="24.3">R = -0.71, <tspan font-style="italic">p</tspan> = 0.02</text>
<text x="1223.5" y="538.7" font-size="24.3">R = -0.68, <tspan font-style="italic">p</tspan> = 0.03</text>
<line x1="1678.3" y1="740.0" x2="2030.1" y2="634.2" stroke="#e89ae6" stroke-width="1.5" />
<line x1="1715.2" y1="745.5" x2="2030.1" y2="633.5" stroke="#8babdb" stroke-width="1.5" />
<rect x="1673.0" y="687.0" width="10.6" height="10.6" fill="#e89ae6"/>
<rect x="1822.7" y="710.4" width="10.6" height="10.6" fill="#e89ae6"/>
<rect x="1857.9" y="688.8" width="10.6" height="10.6" fill="#e89ae6"/>
<rect x="1981.7" y="720.4" width="10.6" height="10.6" fill="#e89ae6"/>
<rect x="1988.9" y="673.7" width="10.6" height="10.6" fill="#e89ae6"/>
<rect x="2005.1" y="556.0" width="10.6" height="10.6" fill="#e89ae6"/>
<rect x="2024.1" y="578.6" width="10.6" height="10.6" fill="#e89ae6"/>
<rect x="1673.0" y="701.4" width="10.6" height="10.6" fill="#8babdb"/>
<rect x="1822.7" y="701.4" width="10.6" height="10.6" fill="#8babdb"/>
<rect x="1857.9" y="709.7" width="10.6" height="10.6" fill="#8babdb"/>
<rect x="1892.0" y="738.4" width="10.6" height="10.6" fill="#8babdb"/>
<rect x="1981.7" y="732.3" width="10.6" height="10.6" fill="#8babdb"/>
<rect x="1988.9" y="636.0" width="10.6" height="10.6" fill="#8babdb"/>
<rect x="2005.1" y="614.5" width="10.6" height="10.6" fill="#8babdb"/>
<rect x="2022.0" y="578.6" width="10.6" height="10.6" fill="#8babdb"/>
<rect x="2024.1" y="623.5" width="10.6" height="10.6" fill="#8babdb"/>
<line x1="1609.0" y1="491.3" x2="1609.0" y2="746.7" stroke="#000" stroke-width="2.8" />
<line x1="1607.7" y1="745.5" x2="2032.0" y2="745.5" stroke="#000" stroke-width="2.8" />
<line x1="1597.5" y1="745.5" x2="1609.0" y2="745.5" stroke="#000" stroke-width="2.8" />
<text x="1595.5" y="753.0" font-size="20" text-anchor="end" font-weight="normal" fill="#000" >0</text>
<line x1="1597.5" y1="639.2" x2="1609.0" y2="639.2" stroke="#000" stroke-width="2.8" />
<text x="1595.5" y="646.7" font-size="20" text-anchor="end" font-weight="normal" fill="#000" >50</text>
<line x1="1597.5" y1="532.9" x2="1609.0" y2="532.9" stroke="#000" stroke-width="2.8" />
<text x="1595.5" y="540.4" font-size="20" text-anchor="end" font-weight="normal" fill="#000" >100</text>
<line x1="1609.0" y1="745.5" x2="1609.0" y2="756.0" stroke="#000" stroke-width="2.8" />
<text x="1609.0" y="779.0" font-size="20" text-anchor="middle" font-weight="normal" fill="#000" >60</text>
<line x1="1714.5" y1="745.5" x2="1714.5" y2="756.0" stroke="#000" stroke-width="2.8" />
<text x="1714.5" y="779.0" font-size="20" text-anchor="middle" font-weight="normal" fill="#000" >70</text>
<line x1="1820.0" y1="745.5" x2="1820.0" y2="756.0" stroke="#000" stroke-width="2.8" />
<text x="1820.0" y="779.0" font-size="20" text-anchor="middle" font-weight="normal" fill="#000" >80</text>
<line x1="1925.4" y1="745.5" x2="1925.4" y2="756.0" stroke="#000" stroke-width="2.8" />
<text x="1925.4" y="779.0" font-size="20" text-anchor="middle" font-weight="normal" fill="#000" >90</text>
<line x1="2030.9" y1="745.5" x2="2030.9" y2="756.0" stroke="#000" stroke-width="2.8" />
<text x="2030.9" y="779.0" font-size="20" text-anchor="middle" font-weight="normal" fill="#000" >100</text>
<text x="1820.5" y="815.5" font-size="27.6" text-anchor="middle" font-weight="normal" fill="#000" >Gluco dep (%)</text>
<text transform="translate(1515.6,633.5) rotate(-90)" font-size="28.5" text-anchor="middle">Redox metabolic</text>
<text transform="translate(1547.5,630.3) rotate(-90)" font-size="28.5" text-anchor="middle">subsets (%)</text>
<text x="1699.8" y="471.9" font-size="22.2" text-anchor="start" font-weight="bold" fill="#000" textLength="254" lengthAdjust="spacingAndGlyphs">ELN2022 adverse-risk</text>
<line x1="1626.2" y1="505.6" x2="1653.1" y2="505.6" stroke="#8babdb" stroke-width="1.5" />
<rect x="1634.3" y="500.3" width="10.6" height="10.6" fill="#8babdb"/>
<line x1="1626.2" y1="535.4" x2="1653.1" y2="535.4" stroke="#e89ae6" stroke-width="1.5" />
<rect x="1634.3" y="530.1" width="10.6" height="10.6" fill="#e89ae6"/>
<text x="1667.8" y="514.6" font-size="24.5" text-anchor="start" ><tspan font-size="24.5">ROS</tspan><tspan font-size="17.1" dy="-9.6">hi</tspan><tspan font-size="24.5" dy="9.6">&#160;GSH</tspan><tspan font-size="17.1" dy="-9.6">hi</tspan></text>
<text x="1667.8" y="544.4" font-size="24.5" text-anchor="start" ><tspan font-size="24.5">ROS</tspan><tspan font-size="17.1" dy="-9.6">hi</tspan><tspan font-size="24.5" dy="9.6">&#160;MITO</tspan><tspan font-size="17.1" dy="-9.6">hi</tspan></text>
<text x="1832.5" y="514.6" font-size="24.3">R = 0.74, <tspan font-style="italic">p</tspan> = 0.01</text>
<text x="1832.5" y="544.4" font-size="24.3">R = 0.66, <tspan font-style="italic">p</tspan> = 0.04</text>
<line x1="996.2" y1="1120.9" x2="1356.2" y2="1057.0" stroke="#8babdb" stroke-width="1.5" />
<rect x="991.5" y="1166.1" width="10.6" height="10.6" fill="#8babdb"/>
<rect x="1002.4" y="1153.5" width="10.6" height="10.6" fill="#8babdb"/>
<rect x="1021.2" y="1166.1" width="10.6" height="10.6" fill="#8babdb"/>
<rect x="1031.7" y="1130.8" width="10.6" height="10.6" fill="#8babdb"/>
<rect x="1046.9" y="1046.4" width="10.6" height="10.6" fill="#8babdb"/>
<rect x="1051.5" y="1008.5" width="10.6" height="10.6" fill="#8babdb"/>
<rect x="1106.9" y="1145.6" width="10.6" height="10.6" fill="#8babdb"/>
<rect x="1124.4" y="1013.1" width="10.6" height="10.6" fill="#8babdb"/>
<rect x="1271.1" y="1003.2" width="10.6" height="10.6" fill="#8babdb"/>
<rect x="1350.9" y="1130.8" width="10.6" height="10.6" fill="#8babdb"/>
<line x1="996.5" y1="915.3" x2="996.5" y2="1172.6" stroke="#000" stroke-width="2.8" />
<line x1="982.7" y1="1171.4" x2="1431.0" y2="1171.4" stroke="#000" stroke-width="2.8" />
<line x1="985.5" y1="1171.4" x2="996.5" y2="1171.4" stroke="#000" stroke-width="2.8" />
<text x="982.6" y="1180.2" font-size="24.6" text-anchor="end" font-weight="normal" fill="#000" >0</text>
<line x1="985.5" y1="1120.4" x2="996.5" y2="1120.4" stroke="#000" stroke-width="2.8" />
<text x="982.6" y="1129.2" font-size="24.6" text-anchor="end" font-weight="normal" fill="#000" >20</text>
<line x1="985.5" y1="1069.4" x2="996.5" y2="1069.4" stroke="#000" stroke-width="2.8" />
<text x="982.6" y="1078.2" font-size="24.6" text-anchor="end" font-weight="normal" fill="#000" >40</text>
<line x1="985.5" y1="1018.5" x2="996.5" y2="1018.5" stroke="#000" stroke-width="2.8" />
<text x="982.6" y="1027.3" font-size="24.6" text-anchor="end" font-weight="normal" fill="#000" >60</text>
<line x1="985.5" y1="967.5" x2="996.5" y2="967.5" stroke="#000" stroke-width="2.8" />
<text x="982.6" y="976.3" font-size="24.6" text-anchor="end" font-weight="normal" fill="#000" >80</text>
<line x1="985.5" y1="916.5" x2="996.5" y2="916.5" stroke="#000" stroke-width="2.8" />
<text x="982.6" y="925.3" font-size="24.6" text-anchor="end" font-weight="normal" fill="#000" >100</text>
<line x1="996.5" y1="1171.4" x2="996.5" y2="1182.7" stroke="#000" stroke-width="2.8" />
<text x="996.5" y="1208.2" font-size="24.6" text-anchor="middle" font-weight="normal" fill="#000" >0</text>
<line x1="1083.2" y1="1171.4" x2="1083.2" y2="1182.7" stroke="#000" stroke-width="2.8" />
<text x="1083.2" y="1208.2" font-size="24.6" text-anchor="middle" font-weight="normal" fill="#000" >20</text>
<line x1="1169.9" y1="1171.4" x2="1169.9" y2="1182.7" stroke="#000" stroke-width="2.8" />
<text x="1169.9" y="1208.2" font-size="24.6" text-anchor="middle" font-weight="normal" fill="#000" >40</text>
<line x1="1256.5" y1="1171.4" x2="1256.5" y2="1182.7" stroke="#000" stroke-width="2.8" />
<text x="1256.5" y="1208.2" font-size="24.6" text-anchor="middle" font-weight="normal" fill="#000" >60</text>
<line x1="1343.2" y1="1171.4" x2="1343.2" y2="1182.7" stroke="#000" stroke-width="2.8" />
<text x="1343.2" y="1208.2" font-size="24.6" text-anchor="middle" font-weight="normal" fill="#000" >80</text>
<line x1="1429.9" y1="1171.4" x2="1429.9" y2="1182.7" stroke="#000" stroke-width="2.8" />
<text x="1429.9" y="1208.2" font-size="24.6" text-anchor="middle" font-weight="normal" fill="#000" >100</text>
<text x="1214.0" y="1247.5" font-size="28.2" text-anchor="middle" font-weight="normal" fill="#000" >Mito dep (%)</text>
<text transform="translate(890.8,1039.5) rotate(-90)" font-size="28.5" text-anchor="middle">Redox metabolic</text>
<text transform="translate(924.5,1037.0) rotate(-90)" font-size="28.5" text-anchor="middle">subsets (%)</text>
<text x="1023.9" y="892.8" font-size="21.8" text-anchor="start" font-weight="bold" fill="#000" textLength="320.8" lengthAdjust="spacingAndGlyphs">ELN2022 intermediate-risk</text>
<line x1="1015.0" y1="920.8" x2="1042.3" y2="920.8" stroke="#8babdb" stroke-width="1.5" />
<rect x="1023.3" y="915.5" width="10.6" height="10.6" fill="#8babdb"/>
<text x="1058.0" y="930.7" font-size="24.5" text-anchor="start" ><tspan font-size="24.5">ROS</tspan><tspan font-size="17.1" dy="-9.6">lo</tspan><tspan font-size="24.5" dy="9.6">&#160;MITO</tspan><tspan font-size="17.1" dy="-9.6">hi</tspan></text>
<text x="1227.0" y="930.7" font-size="25.2">R = 0.71, <tspan font-style="italic">p</tspan> = 0.02</text>
<line x1="1686.5" y1="993.2" x2="2011.4" y2="1149.7" stroke="#d97fe6" stroke-width="1.8" />
<line x1="1686.5" y1="1027.8" x2="2011.4" y2="1121.7" stroke="#e8cbef" stroke-width="1.5" />
<circle cx="1691.7" cy="1016.9" r="6" fill="#e8cbef"/>
<circle cx="1686.5" cy="1061.4" r="6" fill="#e8cbef"/>
<circle cx="1881.9" cy="1074.3" r="6" fill="#e8cbef"/>
<circle cx="1905.9" cy="1032.8" r="6" fill="#e8cbef"/>
<circle cx="2011.4" cy="1080.5" r="6" fill="#e8cbef"/>
<circle cx="2005.4" cy="1146.4" r="6" fill="#e8cbef"/>
<circle cx="2011.4" cy="1146.4" r="6" fill="#e8cbef"/>
<circle cx="2011.4" cy="1156.3" r="6" fill="#e8cbef"/>
<circle cx="1686.5" cy="972.8" r="6" fill="#d97fe6"/>
<circle cx="1691.7" cy="963.6" r="6" fill="#d97fe6"/>
<circle cx="1881.9" cy="1168.8" r="6" fill="#d97fe6"/>
<circle cx="1905.9" cy="1167.8" r="6" fill="#d97fe6"/>
<circle cx="2006.4" cy="1099.3" r="6" fill="#d97fe6"/>
<circle cx="2011.4" cy="1102.6" r="6" fill="#d97fe6"/>
<circle cx="2011.4" cy="1162.9" r="6" fill="#d97fe6"/>
<line x1="1608.6" y1="914.0" x2="1608.6" y2="1170.0" stroke="#000" stroke-width="2.8" />
<line x1="1607.3" y1="1168.8" x2="2012.5" y2="1168.8" stroke="#000" stroke-width="2.8" />
<line x1="1597.6" y1="1168.8" x2="1608.6" y2="1168.8" stroke="#000" stroke-width="2.8" />
<text x="1594.5" y="1176.6" font-size="21" text-anchor="end" font-weight="normal" fill="#000" >0</text>
<line x1="1597.6" y1="1105.4" x2="1608.6" y2="1105.4" stroke="#000" stroke-width="2.8" />
<text x="1594.5" y="1113.2" font-size="21" text-anchor="end" font-weight="normal" fill="#000" >20</text>
<line x1="1597.6" y1="1042.0" x2="1608.6" y2="1042.0" stroke="#000" stroke-width="2.8" />
<text x="1594.5" y="1049.8" font-size="21" text-anchor="end" font-weight="normal" fill="#000" >40</text>
<line x1="1597.6" y1="978.6" x2="1608.6" y2="978.6" stroke="#000" stroke-width="2.8" />
<text x="1594.5" y="986.4" font-size="21" text-anchor="end" font-weight="normal" fill="#000" >60</text>
<line x1="1597.6" y1="915.2" x2="1608.6" y2="915.2" stroke="#000" stroke-width="2.8" />
<text x="1594.5" y="923.0" font-size="21" text-anchor="end" font-weight="normal" fill="#000" >80</text>
<line x1="1608.6" y1="1168.8" x2="1608.6" y2="1180.0" stroke="#000" stroke-width="2.8" />
<text x="1608.6" y="1202.0" font-size="20" text-anchor="middle" font-weight="normal" fill="#000" >80</text>
<line x1="1709.3" y1="1168.8" x2="1709.3" y2="1180.0" stroke="#000" stroke-width="2.8" />
<text x="1709.3" y="1202.0" font-size="20" text-anchor="middle" font-weight="normal" fill="#000" >85</text>
<line x1="1810.0" y1="1168.8" x2="1810.0" y2="1180.0" stroke="#000" stroke-width="2.8" />
<text x="1810.0" y="1202.0" font-size="20" text-anchor="middle" font-weight="normal" fill="#000" >90</text>
<line x1="1910.7" y1="1168.8" x2="1910.7" y2="1180.0" stroke="#000" stroke-width="2.8" />
<text x="1910.7" y="1202.0" font-size="20" text-anchor="middle" font-weight="normal" fill="#000" >95</text>
<line x1="2011.4" y1="1168.8" x2="2011.4" y2="1180.0" stroke="#000" stroke-width="2.8" />
<text x="2011.4" y="1202.0" font-size="20" text-anchor="middle" font-weight="normal" fill="#000" >100</text>
<text x="1809.4" y="1238.7" font-size="27.6" text-anchor="middle" font-weight="normal" fill="#000" >Gluco dep (%)</text>
<text transform="translate(1525.0,1041.7) rotate(-90)" font-size="28.5" text-anchor="middle">Redox metabolic</text>
<text transform="translate(1557.0,1038.5) rotate(-90)" font-size="28.5" text-anchor="middle">subsets (%)</text>
<text x="1719.8" y="876.9" font-size="22.2" text-anchor="start" font-weight="bold" fill="#000" textLength="141.3" lengthAdjust="spacingAndGlyphs">Female AML</text>
<line x1="1621.4" y1="903.8" x2="1648.0" y2="903.8" stroke="#d97fe6" stroke-width="1.8" />
<circle cx="1635" cy="903.8" r="6" fill="#d97fe6"/>
<line x1="1621.4" y1="929.6" x2="1648.0" y2="929.6" stroke="#e8cbef" stroke-width="1.5" />
<circle cx="1635" cy="929.6" r="6" fill="#e8cbef"/>
<text x="1670.5" y="914.5" font-size="23.5" text-anchor="start" ><tspan font-size="23.5">MITO</tspan><tspan font-size="16.4" dy="-9.2">hi</tspan><tspan font-size="23.5" dy="9.2">&#160;ROS</tspan><tspan font-size="16.4" dy="-9.2">lo</tspan></text>
<text x="1670.5" y="939.5" font-size="23.5" text-anchor="start" ><tspan font-size="23.5">MITO</tspan><tspan font-size="16.4" dy="-9.2">hi</tspan><tspan font-size="23.5" dy="9.2">&#160;GSH</tspan><tspan font-size="16.4" dy="-9.2">lo</tspan></text>
<text x="1826.5" y="914.5" font-size="23.8">R = 0.81, <tspan font-style="italic">p</tspan> = 0.01</text>
<text x="1824.5" y="939.5" font-size="23.8">R = 0.74, <tspan font-style="italic">p</tspan> = 0.03</text>
<line x1="1333.5" y1="103.0" x2="1348.5" y2="103.0" stroke="#2f5a9a" stroke-width="2.8" />
<line x1="1300.8" y1="262.0" x2="1315.8" y2="262.0" stroke="#2f5a9a" stroke-width="2.8" />
<line x1="1466.1" y1="222.0" x2="1481.1" y2="222.0" stroke="#4a2d9a" stroke-width="2.8" />
<line x1="1499.4" y1="133.0" x2="1514.4" y2="133.0" stroke="#4a2d9a" stroke-width="2.8" />
<line x1="1267.9" y1="84.0" x2="1282.9" y2="84.0" stroke="#2f5a9a" stroke-width="2.8" />
<line x1="1433.3" y1="83.0" x2="1448.3" y2="83.0" stroke="#4a2d9a" stroke-width="2.8" />
</svg></body></html>
